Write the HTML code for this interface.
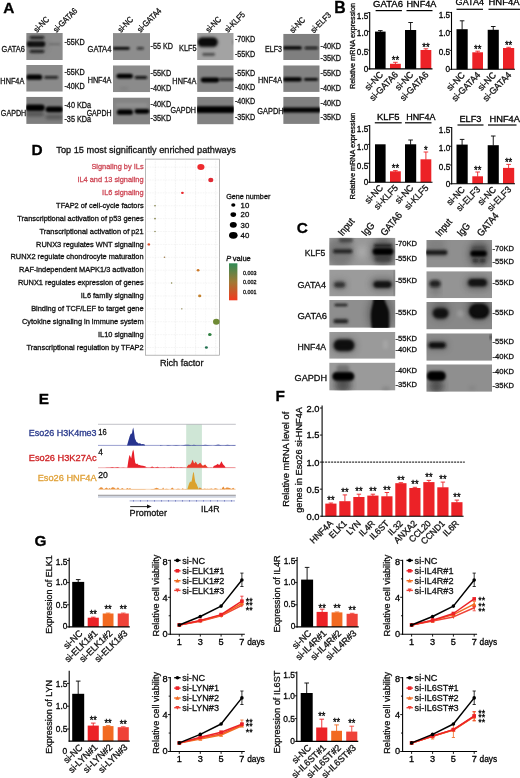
<!DOCTYPE html>
<html><head><meta charset="utf-8"><title>Figure</title>
<style>
html,body{margin:0;padding:0;background:#fff;}
svg{display:block;font-family:"Liberation Sans",sans-serif;}
text{fill:#111;stroke:#111;stroke-width:.3px;}
</style></head><body>
<svg width="520" height="778" viewBox="0 0 520 778">
<defs>
<filter id="b1" x="-30%" y="-100%" width="160%" height="300%"><feGaussianBlur stdDeviation="0.85"/></filter>
<filter id="b2" x="-30%" y="-100%" width="160%" height="300%"><feGaussianBlur stdDeviation="1.6"/></filter>
<filter id="b3" x="-30%" y="-100%" width="160%" height="300%"><feGaussianBlur stdDeviation="3"/></filter>
<filter id="b0" x="-10%" y="-10%" width="120%" height="120%"><feGaussianBlur stdDeviation="0.35"/></filter>
<linearGradient id="pg" x1="0" y1="0" x2="0" y2="1"><stop offset="0" stop-color="#2f8a55"/><stop offset="0.5" stop-color="#a07a35"/><stop offset="1" stop-color="#f23a1e"/></linearGradient>
</defs>
<rect width="520" height="778" fill="#fff"/>
<text transform="translate(3.30,13.10)" font-size="15.4" font-weight="bold" style="fill:#000;stroke:#000">A</text>
<clipPath id="c1"><rect x="26.20" y="32.90" width="36.60" height="27.20"/></clipPath>
<g clip-path="url(#c1)">
<rect x="26.20" y="32.90" width="36.60" height="27.20" fill="#8b8b8b" />
<rect x="29.75" y="36.30" width="14.50" height="2.60" rx="1.30" fill="#0a0a0a" opacity="0.95" filter="url(#b1)"/>
<rect x="26.75" y="41.30" width="18.50" height="5.60" rx="2.80" fill="#000" opacity="1" filter="url(#b1)"/>
<rect x="29.75" y="50.00" width="14.50" height="2.80" rx="1.40" fill="#0a0a0a" opacity="0.95" filter="url(#b1)"/>
<rect x="26.00" y="36.00" width="21.00" height="17.00" rx="8.50" fill="#444" opacity="0.25" filter="url(#b3)"/>
<rect x="48.50" y="43.40" width="12.00" height="1.60" rx="0.80" fill="#333" opacity="0.4" filter="url(#b1)"/>
</g>
<clipPath id="c2"><rect x="26.20" y="65.00" width="36.60" height="26.70"/></clipPath>
<g clip-path="url(#c2)">
<rect x="26.20" y="65.00" width="36.60" height="26.70" fill="#8a8a8a" />
<rect x="26.20" y="74.60" width="16.00" height="5.20" rx="2.60" fill="#000" opacity="1" filter="url(#b1)"/>
<rect x="44.20" y="76.00" width="14.00" height="2.80" rx="1.40" fill="#111" opacity="0.85" filter="url(#b1)"/>
</g>
<clipPath id="c3"><rect x="26.20" y="96.80" width="36.60" height="27.10"/></clipPath>
<g clip-path="url(#c3)">
<rect x="26.20" y="96.80" width="36.60" height="27.10" fill="#7e7e7e" />
<rect x="26.00" y="111.50" width="18.00" height="5.00" rx="2.50" fill="#333" opacity="0.5" filter="url(#b2)"/>
<rect x="45.50" y="114.50" width="17.00" height="5.00" rx="2.50" fill="#333" opacity="0.45" filter="url(#b2)"/>
<rect x="25.25" y="104.40" width="19.50" height="6.60" rx="3.30" fill="#000" opacity="1" filter="url(#b1)"/>
<rect x="45.55" y="106.40" width="17.50" height="5.80" rx="2.90" fill="#000" opacity="1" filter="url(#b1)"/>
</g>
<text transform="translate(25.00,52.00) scale(0.869,1)" font-size="8.6" text-anchor="end">GATA6</text>
<text transform="translate(24.30,84.00) scale(0.851,1)" font-size="8.6" text-anchor="end">HNF4A</text>
<text transform="translate(26.30,116.00) scale(0.834,1)" font-size="8.6" text-anchor="end">GAPDH</text>
<text transform="translate(64.40,45.20) scale(0.837,1)" font-size="8.6">-55KD</text>
<text transform="translate(64.40,75.40) scale(0.837,1)" font-size="8.6">-55KD</text>
<text transform="translate(64.40,89.30) scale(0.837,1)" font-size="8.6">-40KD</text>
<text transform="translate(64.40,107.90) scale(0.849,1)" font-size="8.6">-40 KDa</text>
<text transform="translate(64.40,121.70) scale(0.849,1)" font-size="8.6">-35 KDa</text>
<text transform="translate(36.90,32.90) rotate(-45) scale(0.860,1)" font-size="8.5">si-NC</text>
<text transform="translate(56.40,32.90) rotate(-45) scale(0.860,1)" font-size="8.5">si-GATA6</text>
<clipPath id="c4"><rect x="113.00" y="33.10" width="37.00" height="27.00"/></clipPath>
<g clip-path="url(#c4)">
<rect x="113.00" y="33.10" width="37.00" height="27.00" fill="#8d8d8d" />
<rect x="112.70" y="46.90" width="17.00" height="2.80" rx="1.40" fill="#050505" opacity="0.97" filter="url(#b1)"/>
<rect x="136.80" y="47.30" width="7.00" height="2.20" rx="1.10" fill="#111" opacity="0.8" filter="url(#b1)"/>
</g>
<clipPath id="c5"><rect x="113.00" y="65.30" width="37.00" height="26.90"/></clipPath>
<g clip-path="url(#c5)">
<rect x="113.00" y="65.30" width="37.00" height="26.90" fill="#8b8b8b" />
<rect x="116.45" y="73.80" width="16.50" height="4.80" rx="2.40" fill="#000" opacity="1" filter="url(#b1)"/>
<rect x="134.75" y="76.10" width="12.50" height="3.00" rx="1.50" fill="#0a0a0a" opacity="0.95" filter="url(#b1)"/>
<rect x="120.00" y="87.50" width="8.00" height="2.00" rx="1.00" fill="#555" opacity="0.25" filter="url(#b2)"/>
</g>
<clipPath id="c6"><rect x="113.00" y="97.40" width="37.00" height="27.20"/></clipPath>
<g clip-path="url(#c6)">
<rect x="113.00" y="97.40" width="37.00" height="27.20" fill="#848484" />
<rect x="115.50" y="103.70" width="32.00" height="2.60" rx="1.30" fill="#bbb" opacity="0.35" filter="url(#b2)"/>
<rect x="116.90" y="109.60" width="16.00" height="5.20" rx="2.60" fill="#000" opacity="1" filter="url(#b1)"/>
<rect x="134.50" y="108.90" width="15.00" height="4.80" rx="2.40" fill="#000" opacity="1" filter="url(#b1)"/>
</g>
<text transform="translate(111.40,52.30) scale(0.884,1)" font-size="8.6" text-anchor="end">GATA4</text>
<text transform="translate(111.40,82.90) scale(0.844,1)" font-size="8.6" text-anchor="end">HNF4A</text>
<text transform="translate(111.60,115.90) scale(0.817,1)" font-size="8.6" text-anchor="end">GAPDH</text>
<text transform="translate(150.60,49.20) scale(0.837,1)" font-size="8.6">-55 KD</text>
<text transform="translate(150.60,76.00) scale(0.845,1)" font-size="8.6">-55KD</text>
<text transform="translate(150.60,91.00) scale(0.845,1)" font-size="8.6">-40KD</text>
<text transform="translate(150.60,106.50) scale(0.845,1)" font-size="8.6">-40KD</text>
<text transform="translate(150.60,121.20) scale(0.845,1)" font-size="8.6">-35KD</text>
<text transform="translate(120.90,32.90) rotate(-45) scale(0.860,1)" font-size="8.5">si-NC</text>
<text transform="translate(140.40,32.90) rotate(-45) scale(0.860,1)" font-size="8.5">si-GATA4</text>
<clipPath id="c7"><rect x="197.10" y="32.90" width="36.60" height="27.20"/></clipPath>
<g clip-path="url(#c7)">
<rect x="197.10" y="32.90" width="36.60" height="27.20" fill="#a3a3a3" />
<rect x="197.95" y="37.70" width="19.50" height="8.80" rx="4.40" fill="#000" opacity="1" filter="url(#b1)"/>
<rect x="196.70" y="36.30" width="22.00" height="12.00" rx="6.00" fill="#222" opacity="0.35" filter="url(#b2)"/>
<rect x="202.10" y="52.70" width="13.00" height="3.20" rx="1.60" fill="#222" opacity="0.6" filter="url(#b1)"/>
<rect x="232.20" y="39.50" width="1.60" height="5.00" rx="0.80" fill="#555" opacity="0.4" filter="url(#b1)"/>
</g>
<clipPath id="c8"><rect x="197.10" y="65.30" width="36.60" height="26.60"/></clipPath>
<g clip-path="url(#c8)">
<rect x="197.10" y="65.30" width="36.60" height="26.60" fill="#858585" />
<rect x="200.75" y="77.60" width="18.50" height="4.80" rx="2.40" fill="#000" opacity="1" filter="url(#b1)"/>
<rect x="219.00" y="78.35" width="15.00" height="2.30" rx="1.15" fill="#0a0a0a" opacity="0.9" filter="url(#b1)"/>
</g>
<clipPath id="c9"><rect x="197.10" y="96.80" width="36.60" height="27.60"/></clipPath>
<g clip-path="url(#c9)">
<rect x="197.10" y="96.80" width="36.60" height="27.60" fill="#828282" />
<rect x="194.50" y="106.30" width="42.00" height="6.60" rx="3.30" fill="#000" opacity="1" filter="url(#b1)"/>
</g>
<text transform="translate(196.50,50.50) scale(0.851,1)" font-size="8.6" text-anchor="end">KLF5</text>
<text transform="translate(196.30,83.50) scale(0.851,1)" font-size="8.6" text-anchor="end">HNF4A</text>
<text transform="translate(196.00,113.30) scale(0.834,1)" font-size="8.6" text-anchor="end">GAPDH</text>
<text transform="translate(234.90,41.70) scale(0.829,1)" font-size="8.6">-70KD</text>
<text transform="translate(234.90,56.80) scale(0.829,1)" font-size="8.6">-55KD</text>
<text transform="translate(234.90,76.30) scale(0.829,1)" font-size="8.6">-55KD</text>
<text transform="translate(234.90,90.00) scale(0.829,1)" font-size="8.6">-40KD</text>
<text transform="translate(234.90,103.80) scale(0.829,1)" font-size="8.6">-40KD</text>
<text transform="translate(234.90,120.30) scale(0.829,1)" font-size="8.6">-35KD</text>
<text transform="translate(208.90,32.90) rotate(-45) scale(0.860,1)" font-size="8.5">si-NC</text>
<text transform="translate(227.90,32.90) rotate(-45) scale(0.860,1)" font-size="8.5">si-KLF5</text>
<clipPath id="c10"><rect x="283.20" y="33.80" width="36.50" height="26.30"/></clipPath>
<g clip-path="url(#c10)">
<rect x="283.20" y="33.80" width="36.50" height="26.30" fill="#7f7f7f" />
<rect x="282.80" y="46.30" width="19.00" height="3.20" rx="1.60" fill="#000" opacity="1" filter="url(#b1)"/>
<rect x="304.55" y="46.70" width="13.50" height="2.60" rx="1.30" fill="#0a0a0a" opacity="0.95" filter="url(#b1)"/>
</g>
<clipPath id="c11"><rect x="283.20" y="65.30" width="36.50" height="26.60"/></clipPath>
<g clip-path="url(#c11)">
<rect x="283.20" y="65.30" width="36.50" height="26.60" fill="#828282" />
<rect x="282.80" y="77.25" width="19.00" height="4.30" rx="2.15" fill="#000" opacity="1" filter="url(#b1)"/>
<rect x="304.00" y="77.95" width="14.00" height="2.90" rx="1.45" fill="#050505" opacity="0.97" filter="url(#b1)"/>
</g>
<clipPath id="c12"><rect x="283.20" y="96.80" width="36.50" height="27.10"/></clipPath>
<g clip-path="url(#c12)">
<rect x="283.20" y="96.80" width="36.50" height="27.10" fill="#808080" />
<rect x="280.50" y="107.60" width="42.00" height="4.80" rx="2.40" fill="#000" opacity="1" filter="url(#b1)"/>
</g>
<text transform="translate(282.00,52.00) scale(0.827,1)" font-size="8.6" text-anchor="end">ELF3</text>
<text transform="translate(282.00,83.10) scale(0.851,1)" font-size="8.6" text-anchor="end">HNF4A</text>
<text transform="translate(283.60,113.80) scale(0.863,1)" font-size="8.6" text-anchor="end">GAPDH</text>
<text transform="translate(320.50,49.00) scale(0.845,1)" font-size="8.6">-40KD</text>
<text transform="translate(320.50,61.00) scale(0.845,1)" font-size="8.6">-35KD</text>
<text transform="translate(320.50,76.00) scale(0.845,1)" font-size="8.6">-55KD</text>
<text transform="translate(320.50,90.50) scale(0.845,1)" font-size="8.6">-40KD</text>
<text transform="translate(320.50,106.00) scale(0.845,1)" font-size="8.6">-40KD</text>
<text transform="translate(320.50,120.00) scale(0.845,1)" font-size="8.6">-35KD</text>
<text transform="translate(292.90,33.40) rotate(-45) scale(0.860,1)" font-size="8.5">si-NC</text>
<text transform="translate(313.90,33.40) rotate(-45) scale(0.860,1)" font-size="8.5">si-ELF3</text>
<text transform="translate(334.30,13.30)" font-size="15.8" font-weight="bold" style="fill:#000;stroke:#000">B</text>
<line x1="380.30" y1="30.60" x2="380.30" y2="32.10" stroke="#000" stroke-width="0.9" />
<line x1="378.00" y1="30.60" x2="382.60" y2="30.60" stroke="#000" stroke-width="0.9" />
<rect x="375.00" y="31.60" width="10.60" height="37.30" fill="#000" />
<text transform="translate(383.60,75.20) rotate(-46) scale(0.950,1)" font-size="9.2" text-anchor="end">si-NC</text>
<line x1="395.40" y1="62.30" x2="395.40" y2="64.30" stroke="#ec2227" stroke-width="0.9" />
<line x1="393.10" y1="62.30" x2="397.70" y2="62.30" stroke="#ec2227" stroke-width="0.9" />
<rect x="390.00" y="63.80" width="10.80" height="5.10" fill="#ec2227" />
<text transform="translate(395.40,64.00) scale(0.920,1)" font-size="10.2" text-anchor="middle" style="fill:#000;stroke:#000">**</text>
<text transform="translate(398.70,75.20) rotate(-46) scale(0.950,1)" font-size="9.2" text-anchor="end">si-GATA6</text>
<line x1="410.60" y1="22.50" x2="410.60" y2="30.50" stroke="#000" stroke-width="0.9" />
<line x1="408.30" y1="22.50" x2="412.90" y2="22.50" stroke="#000" stroke-width="0.9" />
<rect x="405.00" y="30.00" width="11.20" height="38.90" fill="#000" />
<text transform="translate(413.90,75.20) rotate(-46) scale(0.950,1)" font-size="9.2" text-anchor="end">si-NC</text>
<line x1="425.90" y1="48.80" x2="425.90" y2="50.50" stroke="#ec2227" stroke-width="0.9" />
<line x1="423.60" y1="48.80" x2="428.20" y2="48.80" stroke="#ec2227" stroke-width="0.9" />
<rect x="420.50" y="50.00" width="10.80" height="18.90" fill="#ec2227" />
<text transform="translate(425.90,50.50) scale(0.920,1)" font-size="10.2" text-anchor="middle" style="fill:#000;stroke:#000">**</text>
<text transform="translate(429.20,75.20) rotate(-46) scale(0.950,1)" font-size="9.2" text-anchor="end">si-GATA6</text>
<line x1="369.70" y1="11.90" x2="369.70" y2="69.45" stroke="#000" stroke-width="1.1" />
<line x1="369.15" y1="68.90" x2="432.50" y2="68.90" stroke="#000" stroke-width="1.1" />
<line x1="367.70" y1="12.60" x2="369.70" y2="12.60" stroke="#000" stroke-width="0.9" />
<text transform="translate(368.20,18.61) scale(0.890,1)" font-size="9.2" text-anchor="end" style="fill:#000;stroke:#000">1.5</text>
<line x1="367.70" y1="31.40" x2="369.70" y2="31.40" stroke="#000" stroke-width="0.9" />
<text transform="translate(368.20,35.61) scale(0.890,1)" font-size="9.2" text-anchor="end" style="fill:#000;stroke:#000">1.0</text>
<line x1="367.70" y1="50.20" x2="369.70" y2="50.20" stroke="#000" stroke-width="0.9" />
<text transform="translate(368.20,54.91) scale(0.890,1)" font-size="9.2" text-anchor="end" style="fill:#000;stroke:#000">0.5</text>
<line x1="367.70" y1="68.90" x2="369.70" y2="68.90" stroke="#000" stroke-width="0.9" />
<text transform="translate(368.20,71.51) scale(0.890,1)" font-size="9.2" text-anchor="end" style="fill:#000;stroke:#000">0</text>
<text transform="translate(373.10,7.30) scale(1.114,1)" font-size="8.6" style="fill:#000;stroke:#000">GATA6</text>
<line x1="375.60" y1="10.60" x2="401.90" y2="10.60" stroke="#000" stroke-width="1.2" />
<text transform="translate(406.50,7.30) scale(1.064,1)" font-size="8.6" style="fill:#000;stroke:#000">HNF4A</text>
<line x1="406.50" y1="10.60" x2="432.50" y2="10.60" stroke="#000" stroke-width="1.2" />
<text transform="translate(355.40,46.00) rotate(-90) scale(1.033,1)" font-size="7.0" text-anchor="middle">Relative mRNA expression</text>
<line x1="462.10" y1="20.80" x2="462.10" y2="29.70" stroke="#000" stroke-width="0.9" />
<line x1="459.80" y1="20.80" x2="464.40" y2="20.80" stroke="#000" stroke-width="0.9" />
<rect x="456.50" y="29.20" width="11.20" height="40.10" fill="#000" />
<text transform="translate(465.40,75.60) rotate(-46) scale(0.950,1)" font-size="9.2" text-anchor="end">si-NC</text>
<line x1="477.65" y1="51.20" x2="477.65" y2="52.80" stroke="#ec2227" stroke-width="0.9" />
<line x1="475.35" y1="51.20" x2="479.95" y2="51.20" stroke="#ec2227" stroke-width="0.9" />
<rect x="472.30" y="52.30" width="10.70" height="17.00" fill="#ec2227" />
<text transform="translate(477.65,52.90) scale(0.920,1)" font-size="10.2" text-anchor="middle" style="fill:#000;stroke:#000">**</text>
<text transform="translate(480.95,75.60) rotate(-46) scale(0.950,1)" font-size="9.2" text-anchor="end">si-GATA4</text>
<line x1="493.25" y1="26.50" x2="493.25" y2="30.30" stroke="#000" stroke-width="0.9" />
<line x1="490.95" y1="26.50" x2="495.55" y2="26.50" stroke="#000" stroke-width="0.9" />
<rect x="487.70" y="29.80" width="11.10" height="39.50" fill="#000" />
<text transform="translate(496.55,75.60) rotate(-46) scale(0.950,1)" font-size="9.2" text-anchor="end">si-NC</text>
<line x1="508.60" y1="47.30" x2="508.60" y2="48.50" stroke="#ec2227" stroke-width="0.9" />
<line x1="506.30" y1="47.30" x2="510.90" y2="47.30" stroke="#ec2227" stroke-width="0.9" />
<rect x="503.00" y="48.00" width="11.20" height="21.30" fill="#ec2227" />
<text transform="translate(508.60,49.00) scale(0.920,1)" font-size="10.2" text-anchor="middle" style="fill:#000;stroke:#000">**</text>
<text transform="translate(511.90,75.60) rotate(-46) scale(0.950,1)" font-size="9.2" text-anchor="end">si-GATA4</text>
<line x1="451.50" y1="11.90" x2="451.50" y2="69.85" stroke="#000" stroke-width="1.1" />
<line x1="450.95" y1="69.30" x2="515.00" y2="69.30" stroke="#000" stroke-width="1.1" />
<line x1="449.50" y1="12.60" x2="451.50" y2="12.60" stroke="#000" stroke-width="0.9" />
<text transform="translate(450.00,17.91) scale(0.890,1)" font-size="9.2" text-anchor="end" style="fill:#000;stroke:#000">1.5</text>
<line x1="449.50" y1="31.50" x2="451.50" y2="31.50" stroke="#000" stroke-width="0.9" />
<text transform="translate(450.00,36.01) scale(0.890,1)" font-size="9.2" text-anchor="end" style="fill:#000;stroke:#000">1.0</text>
<line x1="449.50" y1="50.40" x2="451.50" y2="50.40" stroke="#000" stroke-width="0.9" />
<text transform="translate(450.00,55.31) scale(0.890,1)" font-size="9.2" text-anchor="end" style="fill:#000;stroke:#000">0.5</text>
<line x1="449.50" y1="69.30" x2="451.50" y2="69.30" stroke="#000" stroke-width="0.9" />
<text transform="translate(450.00,72.11) scale(0.890,1)" font-size="9.2" text-anchor="end" style="fill:#000;stroke:#000">0</text>
<text transform="translate(455.60,5.40) scale(1.055,1)" font-size="8.6" style="fill:#000;stroke:#000">GATA4</text>
<line x1="456.50" y1="9.30" x2="483.00" y2="9.30" stroke="#000" stroke-width="1.2" />
<text transform="translate(488.50,5.40) scale(1.100,1)" font-size="8.6" style="fill:#000;stroke:#000">HNF4A</text>
<line x1="488.50" y1="9.30" x2="520.00" y2="9.30" stroke="#000" stroke-width="1.2" />
<rect x="375.00" y="144.30" width="10.60" height="37.90" fill="#000" />
<text transform="translate(383.60,188.50) rotate(-46) scale(0.950,1)" font-size="9.2" text-anchor="end">si-NC</text>
<line x1="395.40" y1="170.60" x2="395.40" y2="171.80" stroke="#ec2227" stroke-width="0.9" />
<line x1="393.10" y1="170.60" x2="397.70" y2="170.60" stroke="#ec2227" stroke-width="0.9" />
<rect x="390.00" y="171.30" width="10.80" height="10.90" fill="#ec2227" />
<text transform="translate(395.40,172.30) scale(0.920,1)" font-size="10.2" text-anchor="middle" style="fill:#000;stroke:#000">**</text>
<text transform="translate(398.70,188.50) rotate(-46) scale(0.950,1)" font-size="9.2" text-anchor="end">si-KLF5</text>
<line x1="410.60" y1="140.00" x2="410.60" y2="144.80" stroke="#000" stroke-width="0.9" />
<line x1="408.30" y1="140.00" x2="412.90" y2="140.00" stroke="#000" stroke-width="0.9" />
<rect x="405.00" y="144.30" width="11.20" height="37.90" fill="#000" />
<text transform="translate(413.90,188.50) rotate(-46) scale(0.950,1)" font-size="9.2" text-anchor="end">si-NC</text>
<line x1="425.90" y1="152.00" x2="425.90" y2="159.80" stroke="#ec2227" stroke-width="0.9" />
<line x1="423.60" y1="152.00" x2="428.20" y2="152.00" stroke="#ec2227" stroke-width="0.9" />
<rect x="420.50" y="159.30" width="10.80" height="22.90" fill="#ec2227" />
<text transform="translate(425.90,153.70) scale(0.920,1)" font-size="10.2" text-anchor="middle" style="fill:#000;stroke:#000">*</text>
<text transform="translate(429.20,188.50) rotate(-46) scale(0.950,1)" font-size="9.2" text-anchor="end">si-KLF5</text>
<line x1="369.70" y1="125.00" x2="369.70" y2="182.75" stroke="#000" stroke-width="1.1" />
<line x1="369.15" y1="182.20" x2="432.50" y2="182.20" stroke="#000" stroke-width="1.1" />
<line x1="367.70" y1="125.60" x2="369.70" y2="125.60" stroke="#000" stroke-width="0.9" />
<text transform="translate(368.20,131.91) scale(0.890,1)" font-size="9.2" text-anchor="end" style="fill:#000;stroke:#000">1.5</text>
<line x1="367.70" y1="144.40" x2="369.70" y2="144.40" stroke="#000" stroke-width="0.9" />
<text transform="translate(368.20,149.51) scale(0.890,1)" font-size="9.2" text-anchor="end" style="fill:#000;stroke:#000">1.0</text>
<line x1="367.70" y1="163.30" x2="369.70" y2="163.30" stroke="#000" stroke-width="0.9" />
<text transform="translate(368.20,168.71) scale(0.890,1)" font-size="9.2" text-anchor="end" style="fill:#000;stroke:#000">0.5</text>
<line x1="367.70" y1="182.20" x2="369.70" y2="182.20" stroke="#000" stroke-width="0.9" />
<text transform="translate(368.20,184.61) scale(0.890,1)" font-size="9.2" text-anchor="end" style="fill:#000;stroke:#000">0</text>
<text transform="translate(376.90,119.60) scale(1.095,1)" font-size="8.6" style="fill:#000;stroke:#000">KLF5</text>
<line x1="374.80" y1="122.80" x2="401.70" y2="122.80" stroke="#000" stroke-width="1.2" />
<text transform="translate(406.20,119.60) scale(1.043,1)" font-size="8.6" style="fill:#000;stroke:#000">HNF4A</text>
<line x1="405.00" y1="122.80" x2="431.50" y2="122.80" stroke="#000" stroke-width="1.2" />
<text transform="translate(354.90,156.00) rotate(-90) scale(1.045,1)" font-size="7.0" text-anchor="middle">Relative mRNA expression</text>
<line x1="462.10" y1="139.40" x2="462.10" y2="145.10" stroke="#000" stroke-width="0.9" />
<line x1="459.80" y1="139.40" x2="464.40" y2="139.40" stroke="#000" stroke-width="0.9" />
<rect x="456.50" y="144.60" width="11.20" height="39.20" fill="#000" />
<text transform="translate(465.40,190.10) rotate(-46) scale(0.950,1)" font-size="9.2" text-anchor="end">si-NC</text>
<line x1="477.65" y1="172.00" x2="477.65" y2="176.80" stroke="#ec2227" stroke-width="0.9" />
<line x1="475.35" y1="172.00" x2="479.95" y2="172.00" stroke="#ec2227" stroke-width="0.9" />
<rect x="472.30" y="176.30" width="10.70" height="7.50" fill="#ec2227" />
<text transform="translate(477.65,173.70) scale(0.920,1)" font-size="10.2" text-anchor="middle" style="fill:#000;stroke:#000">**</text>
<text transform="translate(480.95,190.10) rotate(-46) scale(0.950,1)" font-size="9.2" text-anchor="end">si-ELF3</text>
<line x1="493.25" y1="136.00" x2="493.25" y2="145.70" stroke="#000" stroke-width="0.9" />
<line x1="490.95" y1="136.00" x2="495.55" y2="136.00" stroke="#000" stroke-width="0.9" />
<rect x="487.70" y="145.20" width="11.10" height="38.60" fill="#000" />
<text transform="translate(496.55,190.10) rotate(-46) scale(0.950,1)" font-size="9.2" text-anchor="end">si-NC</text>
<line x1="508.60" y1="164.40" x2="508.60" y2="168.40" stroke="#ec2227" stroke-width="0.9" />
<line x1="506.30" y1="164.40" x2="510.90" y2="164.40" stroke="#ec2227" stroke-width="0.9" />
<rect x="503.00" y="167.90" width="11.20" height="15.90" fill="#ec2227" />
<text transform="translate(508.60,166.10) scale(0.920,1)" font-size="10.2" text-anchor="middle" style="fill:#000;stroke:#000">**</text>
<text transform="translate(511.90,190.10) rotate(-46) scale(0.950,1)" font-size="9.2" text-anchor="end">si-ELF3</text>
<line x1="451.70" y1="127.00" x2="451.70" y2="184.35" stroke="#000" stroke-width="1.1" />
<line x1="451.15" y1="183.80" x2="515.00" y2="183.80" stroke="#000" stroke-width="1.1" />
<line x1="449.70" y1="127.50" x2="451.70" y2="127.50" stroke="#000" stroke-width="0.9" />
<text transform="translate(450.20,133.11) scale(0.890,1)" font-size="9.2" text-anchor="end" style="fill:#000;stroke:#000">1.5</text>
<line x1="449.70" y1="146.30" x2="451.70" y2="146.30" stroke="#000" stroke-width="0.9" />
<text transform="translate(450.20,150.81) scale(0.890,1)" font-size="9.2" text-anchor="end" style="fill:#000;stroke:#000">1.0</text>
<line x1="449.70" y1="165.00" x2="451.70" y2="165.00" stroke="#000" stroke-width="0.9" />
<text transform="translate(450.20,169.61) scale(0.890,1)" font-size="9.2" text-anchor="end" style="fill:#000;stroke:#000">0.5</text>
<line x1="449.70" y1="183.80" x2="451.70" y2="183.80" stroke="#000" stroke-width="0.9" />
<text transform="translate(450.20,186.51) scale(0.890,1)" font-size="9.2" text-anchor="end" style="fill:#000;stroke:#000">0</text>
<text transform="translate(459.40,122.30) scale(1.075,1)" font-size="8.6" style="fill:#000;stroke:#000">ELF3</text>
<line x1="457.50" y1="125.00" x2="483.50" y2="125.00" stroke="#000" stroke-width="1.2" />
<text transform="translate(489.50,122.30) scale(1.082,1)" font-size="8.6" style="fill:#000;stroke:#000">HNF4A</text>
<line x1="488.00" y1="125.00" x2="516.50" y2="125.00" stroke="#000" stroke-width="1.2" />
<text transform="translate(296.70,233.20)" font-size="15.4" font-weight="bold" style="fill:#000;stroke:#000">C</text>
<clipPath id="c13"><rect x="329.20" y="237.80" width="66.20" height="27.80"/></clipPath>
<g clip-path="url(#c13)">
<rect x="329.20" y="237.80" width="66.20" height="27.80" fill="#999999" />
<rect x="327.00" y="237.00" width="26.00" height="30.00" rx="13.00" fill="#555" opacity="0.45" filter="url(#b3)"/>
<rect x="339.00" y="237.50" width="14.00" height="5.00" rx="2.50" fill="#222" opacity="0.65" filter="url(#b2)"/>
<rect x="333.45" y="249.70" width="18.50" height="3.00" rx="1.50" fill="#161616" opacity="0.95" filter="url(#b1)"/>
<rect x="332.70" y="248.20" width="20.00" height="6.00" rx="3.00" fill="#333" opacity="0.4" filter="url(#b2)"/>
<rect x="357.00" y="246.00" width="10.00" height="12.00" rx="5.00" fill="#c8c8c8" opacity="0.4" filter="url(#b3)"/>
<rect x="371.50" y="238.00" width="23.00" height="28.00" rx="11.50" fill="#3a3a3a" opacity="0.6" filter="url(#b3)"/>
<rect x="374.00" y="244.10" width="18.00" height="3.00" rx="1.50" fill="#1a1a1a" opacity="0.8" filter="url(#b1)"/>
<rect x="373.25" y="248.80" width="19.50" height="5.60" rx="2.80" fill="#000" opacity="1" filter="url(#b1)"/>
<rect x="372.50" y="247.60" width="21.00" height="8.00" rx="4.00" fill="#000" opacity="0.6" filter="url(#b2)"/>
<rect x="374.50" y="255.80" width="17.00" height="6.00" rx="3.00" fill="#2a2a2a" opacity="0.6" filter="url(#b2)"/>
</g>
<clipPath id="c14"><rect x="329.20" y="269.60" width="66.20" height="26.80"/></clipPath>
<g clip-path="url(#c14)">
<rect x="329.20" y="269.60" width="66.20" height="26.80" fill="#9b9b9b" />
<rect x="334.10" y="282.05" width="11.00" height="5.50" rx="2.75" fill="#1a1a1a" opacity="0.9" filter="url(#b2)"/>
<rect x="332.10" y="280.00" width="15.00" height="10.00" rx="5.00" fill="#444" opacity="0.35" filter="url(#b3)"/>
<rect x="373.50" y="281.15" width="18.00" height="6.50" rx="3.25" fill="#000" opacity="0.95" filter="url(#b2)"/>
<rect x="375.00" y="282.40" width="15.00" height="4.00" rx="2.00" fill="#000" opacity="0.9" filter="url(#b1)"/>
<rect x="370.00" y="277.50" width="25.00" height="13.00" rx="6.50" fill="#333" opacity="0.4" filter="url(#b3)"/>
<rect x="394.00" y="270.00" width="1.20" height="26.00" rx="0.60" fill="#444" opacity="0.5" filter="url(#b1)"/>
</g>
<clipPath id="c15"><rect x="329.20" y="300.00" width="66.20" height="27.80"/></clipPath>
<g clip-path="url(#c15)">
<rect x="329.20" y="300.00" width="66.20" height="27.80" fill="#8e8e8e" />
<rect x="334.50" y="303.80" width="13.00" height="2.40" rx="1.20" fill="#1c1c1c" opacity="0.95" filter="url(#b1)"/>
<rect x="333.80" y="319.50" width="14.00" height="3.40" rx="1.70" fill="#161616" opacity="0.95" filter="url(#b1)"/>
<rect x="333.00" y="318.20" width="16.00" height="6.00" rx="3.00" fill="#333" opacity="0.3" filter="url(#b2)"/>
</g>
<clipPath id="cg6"><rect x="329.2" y="300" width="66.19999999999999" height="27.8"/></clipPath>
<g clip-path="url(#cg6)"><path d="M373.5 298 C373.5 303 371 308 370.8 314 C370.6 320 371.5 325 372 330 L389 330 C389.4 324 389.4 316 389 312 C388.4 307 385.5 304 384 298 Z" fill="#000" filter="url(#b1)"/><ellipse cx="380" cy="314" rx="13" ry="20" fill="#222" opacity="0.35" filter="url(#b3)"/></g>
<clipPath id="c16"><rect x="329.20" y="332.00" width="66.20" height="26.80"/></clipPath>
<g clip-path="url(#c16)">
<rect x="329.20" y="332.00" width="66.20" height="26.80" fill="#9a9a9a" />
<rect x="333.50" y="339.20" width="21.00" height="12.00" rx="6.00" fill="#000" opacity="0.9" filter="url(#b2)"/>
<rect x="335.50" y="341.20" width="17.00" height="8.00" rx="4.00" fill="#000" opacity="1" filter="url(#b1)"/>
<rect x="331.00" y="336.90" width="26.00" height="17.00" rx="8.50" fill="#333" opacity="0.3" filter="url(#b3)"/>
<rect x="383.00" y="340.00" width="5.00" height="9.00" rx="2.50" fill="#c0c0c0" opacity="0.3" filter="url(#b2)"/>
</g>
<clipPath id="c17"><rect x="329.20" y="362.60" width="66.20" height="28.00"/></clipPath>
<g clip-path="url(#c17)">
<rect x="329.20" y="362.60" width="66.20" height="28.00" fill="#9a9a9a" />
<rect x="334.50" y="377.00" width="17.00" height="16.00" rx="8.00" fill="#222" opacity="0.6" filter="url(#b3)"/>
<rect x="336.50" y="365.00" width="13.00" height="7.00" rx="3.50" fill="#444" opacity="0.45" filter="url(#b2)"/>
<rect x="333.05" y="372.70" width="20.50" height="7.00" rx="3.50" fill="#000" opacity="1" filter="url(#b1)"/>
<rect x="332.30" y="371.65" width="22.00" height="9.50" rx="4.75" fill="#000" opacity="0.7" filter="url(#b2)"/>
<rect x="382.00" y="386.50" width="8.00" height="5.00" rx="2.50" fill="#666" opacity="0.3" filter="url(#b2)"/>
</g>
<text transform="translate(325.30,255.50) scale(0.997,1)" font-size="8.6" text-anchor="end">KLF5</text>
<text transform="translate(326.00,287.50) scale(1.059,1)" font-size="8.6" text-anchor="end">GATA4</text>
<text transform="translate(327.00,319.00) scale(1.096,1)" font-size="8.6" text-anchor="end">GATA6</text>
<text transform="translate(326.00,349.80) scale(1.011,1)" font-size="8.6" text-anchor="end">HNF4A</text>
<text transform="translate(327.00,380.50) scale(1.063,1)" font-size="8.6" text-anchor="end">GAPDH</text>
<text transform="translate(395.60,246.40) scale(0.998,1)" font-size="7.6">-70KD</text>
<text transform="translate(395.60,260.60) scale(0.998,1)" font-size="7.6">-55KD</text>
<text transform="translate(395.60,283.10) scale(0.998,1)" font-size="7.6">-55KD</text>
<text transform="translate(395.60,314.60) scale(0.998,1)" font-size="7.6">-55KD</text>
<text transform="translate(395.60,340.60) scale(0.998,1)" font-size="7.6">-55KD</text>
<text transform="translate(395.60,352.10) scale(0.998,1)" font-size="7.6">-40KD</text>
<text transform="translate(395.60,373.10) scale(0.998,1)" font-size="7.6">-40KD</text>
<text transform="translate(395.60,387.10) scale(0.998,1)" font-size="7.6">-35KD</text>
<text transform="translate(342.50,236.50) rotate(-50) scale(0.880,1)" font-size="10">Input</text>
<text transform="translate(366.00,236.50) rotate(-50) scale(0.880,1)" font-size="10">IgG</text>
<text transform="translate(385.00,236.50) rotate(-50) scale(0.880,1)" font-size="10">GATA6</text>
<clipPath id="c18"><rect x="426.30" y="240.00" width="65.70" height="27.60"/></clipPath>
<g clip-path="url(#c18)">
<rect x="426.30" y="240.00" width="65.70" height="27.60" fill="#8f8f8f" />
<rect x="425.00" y="250.50" width="22.00" height="4.00" rx="2.00" fill="#000" opacity="0.95" filter="url(#b1)"/>
<rect x="424.00" y="248.60" width="24.00" height="8.00" rx="4.00" fill="#333" opacity="0.4" filter="url(#b2)"/>
<rect x="427.00" y="240.00" width="18.00" height="8.00" rx="4.00" fill="#555" opacity="0.3" filter="url(#b3)"/>
<rect x="468.00" y="241.00" width="22.00" height="26.00" rx="11.00" fill="#3a3a3a" opacity="0.5" filter="url(#b3)"/>
<rect x="471.60" y="246.20" width="14.00" height="3.00" rx="1.50" fill="#333" opacity="0.6" filter="url(#b2)"/>
<rect x="470.85" y="251.00" width="15.50" height="5.00" rx="2.50" fill="#000" opacity="1" filter="url(#b1)"/>
<rect x="470.10" y="250.00" width="17.00" height="7.00" rx="3.50" fill="#000" opacity="0.5" filter="url(#b2)"/>
<rect x="472.50" y="258.10" width="6.00" height="5.00" rx="2.50" fill="#1a1a1a" opacity="0.7" filter="url(#b2)"/>
<rect x="479.50" y="258.10" width="6.00" height="5.00" rx="2.50" fill="#1a1a1a" opacity="0.7" filter="url(#b2)"/>
</g>
<clipPath id="c19"><rect x="426.30" y="271.20" width="65.70" height="27.00"/></clipPath>
<g clip-path="url(#c19)">
<rect x="426.30" y="271.20" width="65.70" height="27.00" fill="#949494" />
<rect x="429.50" y="280.30" width="11.00" height="7.00" rx="3.50" fill="#111" opacity="0.9" filter="url(#b2)"/>
<rect x="431.00" y="281.00" width="9.00" height="14.00" rx="4.50" fill="#444" opacity="0.35" filter="url(#b3)"/>
<rect x="468.00" y="279.05" width="19.00" height="7.50" rx="3.75" fill="#000" opacity="0.95" filter="url(#b2)"/>
<rect x="470.00" y="280.35" width="15.00" height="4.50" rx="2.25" fill="#000" opacity="0.95" filter="url(#b1)"/>
<rect x="465.00" y="276.50" width="25.00" height="14.00" rx="7.00" fill="#333" opacity="0.4" filter="url(#b3)"/>
</g>
<clipPath id="c20"><rect x="426.30" y="302.00" width="65.70" height="27.40"/></clipPath>
<g clip-path="url(#c20)">
<rect x="426.30" y="302.00" width="65.70" height="27.40" fill="#888888" />
<rect x="432.60" y="307.70" width="16.00" height="11.00" rx="5.50" fill="#000" opacity="0.9" filter="url(#b2)"/>
<rect x="435.10" y="310.20" width="11.00" height="6.00" rx="3.00" fill="#000" opacity="0.9" filter="url(#b1)"/>
<rect x="431.10" y="301.00" width="19.00" height="20.00" rx="9.50" fill="#333" opacity="0.35" filter="url(#b3)"/>
<rect x="457.00" y="310.00" width="7.00" height="7.00" rx="3.50" fill="#b8b8b8" opacity="0.35" filter="url(#b2)"/>
<rect x="469.00" y="303.70" width="20.00" height="15.00" rx="7.50" fill="#000" opacity="1" filter="url(#b2)"/>
<rect x="470.50" y="305.50" width="17.00" height="11.00" rx="5.50" fill="#000" opacity="1" filter="url(#b1)"/>
<rect x="467.00" y="298.00" width="24.00" height="22.00" rx="11.00" fill="#222" opacity="0.45" filter="url(#b3)"/>
</g>
<clipPath id="c21"><rect x="426.30" y="333.30" width="65.70" height="27.50"/></clipPath>
<g clip-path="url(#c21)">
<rect x="426.30" y="333.30" width="65.70" height="27.50" fill="#8d8d8d" />
<rect x="428.45" y="342.30" width="17.50" height="6.00" rx="3.00" fill="#0a0a0a" opacity="0.95" filter="url(#b2)"/>
<rect x="430.20" y="343.50" width="14.00" height="3.60" rx="1.80" fill="#000" opacity="0.9" filter="url(#b1)"/>
<rect x="426.20" y="340.30" width="22.00" height="10.00" rx="5.00" fill="#333" opacity="0.3" filter="url(#b3)"/>
<rect x="490.25" y="334.70" width="1.50" height="5.00" rx="0.75" fill="#111" opacity="0.9" filter="url(#b1)"/>
</g>
<clipPath id="c22"><rect x="426.30" y="364.30" width="65.70" height="27.50"/></clipPath>
<g clip-path="url(#c22)">
<rect x="426.30" y="364.30" width="65.70" height="27.50" fill="#8f8f8f" />
<rect x="428.90" y="379.00" width="15.00" height="14.00" rx="7.00" fill="#222" opacity="0.6" filter="url(#b3)"/>
<rect x="427.55" y="371.90" width="17.50" height="8.00" rx="4.00" fill="#000" opacity="1" filter="url(#b1)"/>
<rect x="426.80" y="371.00" width="19.00" height="10.00" rx="5.00" fill="#000" opacity="0.7" filter="url(#b2)"/>
<rect x="468.50" y="385.50" width="7.00" height="5.00" rx="2.50" fill="#777" opacity="0.3" filter="url(#b2)"/>
</g>
<text transform="translate(492.60,250.60) scale(0.998,1)" font-size="7.6">-70KD</text>
<text transform="translate(492.60,263.60) scale(0.998,1)" font-size="7.6">-55KD</text>
<text transform="translate(492.60,284.80) scale(0.998,1)" font-size="7.6">-55KD</text>
<text transform="translate(492.60,314.90) scale(0.998,1)" font-size="7.6">-55KD</text>
<text transform="translate(492.60,343.60) scale(0.998,1)" font-size="7.6">-55KD</text>
<text transform="translate(492.60,358.60) scale(0.998,1)" font-size="7.6">-40KD</text>
<text transform="translate(492.60,374.40) scale(0.998,1)" font-size="7.6">-40KD</text>
<text transform="translate(492.60,387.60) scale(0.998,1)" font-size="7.6">-35KD</text>
<text transform="translate(440.00,237.00) rotate(-50) scale(0.880,1)" font-size="10">Input</text>
<text transform="translate(461.50,237.00) rotate(-50) scale(0.880,1)" font-size="10">IgG</text>
<text transform="translate(481.50,237.00) rotate(-50) scale(0.880,1)" font-size="10">GATA4</text>
<text transform="translate(31.50,154.60)" font-size="15.4" font-weight="bold" style="fill:#000;stroke:#000">D</text>
<text transform="translate(56.30,153.10) scale(0.981,1)" font-size="9.4">Top 15 most significantly enriched pathways</text>
<rect x="145.40" y="159.10" width="74.00" height="196.10" fill="#fff" stroke="#9a9a9a" stroke-width="0.7"/>
<line x1="145.40" y1="167.10" x2="219.40" y2="167.10" stroke="#dddddd" stroke-width="0.4" stroke-dasharray="0.8 0.8"/>
<line x1="145.40" y1="179.99" x2="219.40" y2="179.99" stroke="#dddddd" stroke-width="0.4" stroke-dasharray="0.8 0.8"/>
<line x1="145.40" y1="192.87" x2="219.40" y2="192.87" stroke="#dddddd" stroke-width="0.4" stroke-dasharray="0.8 0.8"/>
<line x1="145.40" y1="205.76" x2="219.40" y2="205.76" stroke="#dddddd" stroke-width="0.4" stroke-dasharray="0.8 0.8"/>
<line x1="145.40" y1="218.64" x2="219.40" y2="218.64" stroke="#dddddd" stroke-width="0.4" stroke-dasharray="0.8 0.8"/>
<line x1="145.40" y1="231.53" x2="219.40" y2="231.53" stroke="#dddddd" stroke-width="0.4" stroke-dasharray="0.8 0.8"/>
<line x1="145.40" y1="244.42" x2="219.40" y2="244.42" stroke="#dddddd" stroke-width="0.4" stroke-dasharray="0.8 0.8"/>
<line x1="145.40" y1="257.30" x2="219.40" y2="257.30" stroke="#dddddd" stroke-width="0.4" stroke-dasharray="0.8 0.8"/>
<line x1="145.40" y1="270.19" x2="219.40" y2="270.19" stroke="#dddddd" stroke-width="0.4" stroke-dasharray="0.8 0.8"/>
<line x1="145.40" y1="283.07" x2="219.40" y2="283.07" stroke="#dddddd" stroke-width="0.4" stroke-dasharray="0.8 0.8"/>
<line x1="145.40" y1="295.96" x2="219.40" y2="295.96" stroke="#dddddd" stroke-width="0.4" stroke-dasharray="0.8 0.8"/>
<line x1="145.40" y1="308.85" x2="219.40" y2="308.85" stroke="#dddddd" stroke-width="0.4" stroke-dasharray="0.8 0.8"/>
<line x1="145.40" y1="321.73" x2="219.40" y2="321.73" stroke="#dddddd" stroke-width="0.4" stroke-dasharray="0.8 0.8"/>
<line x1="145.40" y1="334.62" x2="219.40" y2="334.62" stroke="#dddddd" stroke-width="0.4" stroke-dasharray="0.8 0.8"/>
<line x1="145.40" y1="347.50" x2="219.40" y2="347.50" stroke="#dddddd" stroke-width="0.4" stroke-dasharray="0.8 0.8"/>
<line x1="155.30" y1="159.10" x2="155.30" y2="355.20" stroke="#d8d8d8" stroke-width="0.45" stroke-dasharray="0.8 0.8"/>
<line x1="175.40" y1="159.10" x2="175.40" y2="355.20" stroke="#d8d8d8" stroke-width="0.45" stroke-dasharray="0.8 0.8"/>
<line x1="195.60" y1="159.10" x2="195.60" y2="355.20" stroke="#d8d8d8" stroke-width="0.45" stroke-dasharray="0.8 0.8"/>
<line x1="215.70" y1="159.10" x2="215.70" y2="355.20" stroke="#d8d8d8" stroke-width="0.45" stroke-dasharray="0.8 0.8"/>
<line x1="165.30" y1="159.10" x2="165.30" y2="355.20" stroke="#e6e6e6" stroke-width="0.35" stroke-dasharray="0.8 0.8"/>
<line x1="185.50" y1="159.10" x2="185.50" y2="355.20" stroke="#e6e6e6" stroke-width="0.35" stroke-dasharray="0.8 0.8"/>
<line x1="205.60" y1="159.10" x2="205.60" y2="355.20" stroke="#e6e6e6" stroke-width="0.35" stroke-dasharray="0.8 0.8"/>
<text transform="translate(143.60,169.20)" font-size="7.4" text-anchor="end" style="fill:#cf4a58;stroke:#cf4a58">Signaling by ILs</text>
<text transform="translate(143.60,182.09)" font-size="7.4" text-anchor="end" style="fill:#cf4a58;stroke:#cf4a58">IL4 and 13 signaling</text>
<text transform="translate(143.60,194.97)" font-size="7.4" text-anchor="end" style="fill:#cf4a58;stroke:#cf4a58">IL6 signaling</text>
<text transform="translate(143.60,207.86)" font-size="7.4" text-anchor="end">TFAP2 of cell-cycle factors</text>
<text transform="translate(143.60,220.74)" font-size="7.4" text-anchor="end">Transcriptional activation of p53 genes</text>
<text transform="translate(143.60,233.63)" font-size="7.4" text-anchor="end">Transcriptional activation of p21</text>
<text transform="translate(143.60,246.52)" font-size="7.4" text-anchor="end">RUNX3 regulates WNT signaling</text>
<text transform="translate(143.60,259.40)" font-size="7.4" text-anchor="end">RUNX2 regulate chondrocyte maturation</text>
<text transform="translate(143.60,272.29)" font-size="7.4" text-anchor="end">RAF-independent MAPK1/3 activation</text>
<text transform="translate(143.60,285.17)" font-size="7.4" text-anchor="end">RUNX1 regulates expression of genes</text>
<text transform="translate(143.60,298.06)" font-size="7.4" text-anchor="end">IL6 family signaling</text>
<text transform="translate(143.60,310.95)" font-size="7.4" text-anchor="end">Binding of TCF/LEF to target gene</text>
<text transform="translate(143.60,323.83)" font-size="7.4" text-anchor="end">Cytokine signaling in immune system</text>
<text transform="translate(143.60,336.72)" font-size="7.4" text-anchor="end">IL10 signaling</text>
<text transform="translate(143.60,349.60)" font-size="7.4" text-anchor="end">Transcriptional regulation by TFAP2</text>
<ellipse cx="200.90" cy="167.10" rx="3.60" ry="3.00" fill="#ee2a2e" />
<ellipse cx="210.80" cy="179.99" rx="2.60" ry="2.20" fill="#e02a34" />
<ellipse cx="182.40" cy="192.87" rx="1.40" ry="1.20" fill="#e8282c" />
<ellipse cx="155.00" cy="205.76" rx="0.80" ry="0.80" fill="#7a7a40" />
<ellipse cx="155.00" cy="218.64" rx="0.80" ry="0.80" fill="#7a7a40" />
<ellipse cx="155.00" cy="231.53" rx="0.70" ry="0.70" fill="#7a7a40" />
<ellipse cx="148.80" cy="244.42" rx="1.30" ry="1.20" fill="#e0502a" />
<ellipse cx="164.50" cy="257.30" rx="0.80" ry="0.70" fill="#a08050" />
<ellipse cx="198.10" cy="270.19" rx="1.40" ry="1.20" fill="#cc7a2a" />
<ellipse cx="171.60" cy="283.07" rx="0.80" ry="0.70" fill="#8a8a50" />
<ellipse cx="199.70" cy="295.96" rx="1.60" ry="1.40" fill="#c4822e" />
<ellipse cx="181.80" cy="308.85" rx="0.80" ry="0.70" fill="#8a8050" />
<ellipse cx="216.30" cy="321.73" rx="3.30" ry="2.90" fill="#6f8a35" />
<ellipse cx="209.80" cy="334.62" rx="1.80" ry="1.50" fill="#2f8040" />
<ellipse cx="206.40" cy="347.50" rx="1.50" ry="1.30" fill="#207050" />
<text transform="translate(181.70,365.80) scale(0.981,1)" font-size="9.3" text-anchor="middle">Rich factor</text>
<text transform="translate(226.20,198.90) scale(0.977,1)" font-size="7.4">Gene number</text>
<ellipse cx="233.30" cy="205.00" rx="2.10" ry="1.70" fill="#000" />
<text transform="translate(240.60,207.80)" font-size="7.8">10</text>
<ellipse cx="233.30" cy="214.60" rx="2.80" ry="2.30" fill="#000" />
<text transform="translate(240.60,217.40)" font-size="7.8">20</text>
<ellipse cx="233.30" cy="224.80" rx="3.50" ry="2.90" fill="#000" />
<text transform="translate(240.60,227.60)" font-size="7.8">30</text>
<ellipse cx="233.30" cy="235.30" rx="4.30" ry="3.40" fill="#000" />
<text transform="translate(240.60,238.10)" font-size="7.8">40</text>
<text transform="translate(226.20,261.30)" font-size="7.4" font-style="italic">P</text>
<text transform="translate(232.80,261.30) scale(1.017,1)" font-size="7.4">value</text>
<rect x="229.00" y="263.30" width="8.40" height="37.00" fill="url(#pg)" />
<text transform="translate(243.00,274.80) scale(0.992,1)" font-size="5.4">0.003</text>
<text transform="translate(243.00,284.30) scale(0.992,1)" font-size="5.4">0.002</text>
<text transform="translate(243.00,293.90) scale(0.992,1)" font-size="5.4">0.001</text>
<text transform="translate(38.80,403.60)" font-size="15.4" font-weight="bold" style="fill:#000;stroke:#000">E</text>
<rect x="186.20" y="424.30" width="15.70" height="65.30" fill="#cfe6d6" />
<line x1="98.00" y1="424.30" x2="235.80" y2="424.30" stroke="#a8a8b0" stroke-width="0.7" />
<line x1="98.00" y1="445.40" x2="235.80" y2="445.40" stroke="#5560b0" stroke-width="0.6" />
<path d="M127.0 445.4 L127.0 445.4 L128.3 441.0 L129.6 436.5 L130.4 434.5 L131.2 433.2 L131.9 434.0 L132.5 430.0 L133.2 427.4 L133.8 430.5 L134.3 434.0 L134.9 438.5 L135.6 440.0 L136.5 442.0 L137.5 442.6 L138.6 443.5 L140.0 443.2 L141.5 444.2 L143.0 444.0 L145.0 444.8 L145.0 445.4 Z" fill="#27348f" opacity="1"/>
<path d="M160.0 445.4 L160.0 445.1 L163.4 445.4 L166.0 445.4 L167.9 445.0 L169.9 445.3 L172.0 445.4 L176.1 444.9 L180.3 445.4 L182.8 445.3 L185.3 444.7 L188.5 444.8 L191.6 445.3 L193.9 444.8 L196.5 445.3 L199.0 445.3 L201.4 445.3 L205.3 444.7 L209.4 445.3 L213.0 445.4 L214.9 445.3 L218.1 444.6 L221.6 445.3 L224.5 445.3 L227.4 444.8 L230.9 445.3 L234.7 445.1 L235.0 445.4 L235.0 445.4 Z" fill="#27348f" opacity="0.8"/>
<line x1="98.00" y1="467.70" x2="235.80" y2="467.70" stroke="#e06a70" stroke-width="0.5" />
<path d="M105.0 467.7 L105.0 467.7 L106.8 467.6 L109.9 467.6 L112.2 467.0 L114.6 467.6 L117.7 467.0 L120.0 467.7 L123.4 467.6 L125.4 467.7 L127.0 467.7 L127.0 467.7 Z" fill="#e8202a" opacity="0.9"/>
<path d="M127.3 467.7 L127.3 467.7 L128.3 461.0 L129.0 457.0 L129.6 455.0 L130.4 456.5 L131.2 458.5 L131.8 455.0 L132.5 451.5 L133.2 449.5 L133.9 452.0 L134.5 458.0 L135.3 463.0 L136.2 464.0 L137.2 463.4 L138.2 464.8 L139.5 465.0 L141.0 465.6 L143.0 465.8 L145.8 466.6 L145.8 467.7 Z" fill="#e8202a" opacity="1"/>
<path d="M146.0 467.7 L146.0 467.3 L147.7 467.6 L150.1 467.5 L152.1 466.6 L154.5 467.5 L156.7 467.1 L157.9 466.7 L159.1 467.4 L160.7 467.6 L162.0 467.5 L163.1 467.5 L164.4 467.3 L166.0 467.7 L168.5 467.6 L169.7 467.5 L171.2 466.4 L172.3 467.5 L173.6 466.8 L175.4 467.5 L177.5 467.3 L178.8 467.5 L181.0 467.2 L183.3 467.5 L185.5 467.5 L186.0 467.7 L186.0 467.7 Z" fill="#e8202a" opacity="0.95"/>
<path d="M186.5 467.7 L186.5 467.7 L187.5 466.0 L188.8 464.6 L190.0 464.8 L191.3 463.0 L192.2 460.5 L192.7 459.7 L193.3 461.5 L194.2 463.4 L195.0 462.5 L195.8 461.5 L196.6 463.0 L197.6 464.6 L198.8 464.0 L199.6 463.0 L200.4 462.8 L201.2 464.0 L202.4 465.4 L203.6 465.6 L204.6 464.8 L205.3 464.6 L206.2 465.8 L207.0 466.6 L208.0 467.7 L208.0 467.7 Z" fill="#e83a2a" opacity="1"/>
<path d="M208.0 467.7 L208.0 467.2 L208.9 467.7 L210.1 467.6 L211.6 467.6 L212.7 467.7 L212.7 467.7 Z" fill="#e8202a" opacity="0.95"/>
<path d="M212.7 467.7 L212.7 467.7 L213.8 466.0 L215.0 465.6 L216.2 465.0 L217.2 464.2 L218.0 463.8 L218.8 465.0 L219.8 464.6 L220.8 462.4 L221.6 461.2 L222.3 463.0 L223.2 464.6 L224.2 465.6 L225.0 466.4 L225.8 467.7 L225.8 467.7 Z" fill="#e8202a" opacity="1"/>
<path d="M226.0 467.7 L226.0 467.4 L228.0 467.5 L230.7 467.6 L233.2 467.6 L234.8 467.6 L235.0 467.7 L235.0 467.7 Z" fill="#e8202a" opacity="0.9"/>
<line x1="98.00" y1="489.30" x2="235.80" y2="489.30" stroke="#eeb070" stroke-width="0.5" />
<path d="M99.0 489.3 L99.0 489.1 L100.1 487.6 L102.0 487.2 L103.4 489.0 L104.5 489.0 L106.4 487.5 L108.3 489.0 L109.7 488.1 L110.6 489.0 L112.1 487.2 L114.1 487.5 L115.3 488.7 L116.9 488.7 L117.9 487.3 L119.4 489.1 L120.8 489.0 L122.3 488.1 L123.7 488.9 L125.6 489.2 L127.4 488.1 L128.9 489.1 L129.9 488.1 L131.1 489.0 L132.7 489.0 L134.2 489.1 L135.7 489.1 L137.2 489.1 L138.9 489.0 L140.2 489.1 L142.1 489.0 L143.5 489.1 L144.5 489.1 L146.5 489.2 L148.2 489.3 L150.2 489.2 L151.6 489.1 L153.5 488.9 L155.0 488.6 L156.3 487.7 L157.9 488.3 L159.2 489.1 L160.1 489.0 L162.2 489.1 L163.1 487.6 L164.2 489.2 L166.1 488.7 L168.1 489.1 L169.1 489.3 L170.5 489.3 L172.2 487.5 L174.1 489.3 L175.5 489.2 L177.6 488.7 L179.1 488.8 L180.2 489.2 L181.5 489.2 L182.7 488.2 L184.0 489.3 L184.9 489.1 L186.1 489.1 L187.0 489.3 L187.0 489.3 Z" fill="#e88a30" opacity="0.95"/>
<path d="M187.3 489.3 L187.3 489.3 L188.0 487.0 L188.8 484.5 L189.6 482.6 L190.4 481.5 L191.2 482.0 L191.9 480.0 L192.6 475.5 L193.2 472.6 L193.6 472.0 L194.0 473.5 L194.6 478.0 L195.2 481.5 L195.8 483.0 L196.6 484.0 L197.3 486.0 L198.0 487.6 L199.0 489.3 L199.0 489.3 Z" fill="#dba22e" opacity="1"/>
<path d="M199.0 489.3 L199.0 487.7 L200.5 487.7 L202.0 489.1 L203.3 489.1 L205.0 488.5 L205.9 489.1 L207.7 488.8 L208.7 489.1 L210.4 488.8 L211.7 488.4 L213.1 489.2 L215.2 488.3 L217.2 488.7 L218.2 489.2 L219.7 489.2 L220.6 488.8 L221.9 489.2 L223.2 489.2 L224.7 489.1 L226.5 487.6 L227.8 487.4 L229.6 488.1 L231.5 489.0 L233.2 487.8 L234.8 489.2 L235.5 489.3 L235.5 489.3 Z" fill="#e88a30" opacity="0.95"/>
<path d="M221.5 489.3 L221.5 489.3 L222.5 487.5 L223.3 486.4 L224.0 487.6 L225.0 489.3 L225.0 489.3 Z" fill="#e88a30" opacity="1"/>
<text transform="translate(98.30,435.00) scale(0.821,1)" font-size="9.2">16</text>
<text transform="translate(98.30,455.20) scale(0.900,1)" font-size="9.2">4</text>
<text transform="translate(98.30,477.60) scale(0.938,1)" font-size="9.2">20</text>
<rect x="98.00" y="494.70" width="137.80" height="1.50" fill="#a9a9ad" />
<rect x="98.00" y="496.20" width="137.80" height="1.50" fill="#c9cfdc" />
<line x1="129.60" y1="500.90" x2="235.00" y2="500.90" stroke="#7a84c4" stroke-width="0.7" />
<rect x="133.00" y="500.40" width="1.00" height="1.00" fill="#5560b0" />
<rect x="140.00" y="500.40" width="1.00" height="1.00" fill="#5560b0" />
<rect x="147.00" y="500.40" width="1.00" height="1.00" fill="#5560b0" />
<rect x="154.00" y="500.40" width="1.00" height="1.00" fill="#5560b0" />
<rect x="161.00" y="500.40" width="1.00" height="1.00" fill="#5560b0" />
<rect x="168.00" y="500.40" width="1.00" height="1.00" fill="#5560b0" />
<rect x="175.00" y="500.40" width="1.00" height="1.00" fill="#5560b0" />
<rect x="182.00" y="500.40" width="1.00" height="1.00" fill="#5560b0" />
<rect x="189.00" y="500.40" width="1.00" height="1.00" fill="#5560b0" />
<rect x="196.00" y="500.40" width="1.00" height="1.00" fill="#5560b0" />
<rect x="203.00" y="500.40" width="1.00" height="1.00" fill="#5560b0" />
<rect x="210.00" y="500.40" width="1.00" height="1.00" fill="#5560b0" />
<rect x="217.00" y="500.40" width="1.00" height="1.00" fill="#5560b0" />
<rect x="224.00" y="500.40" width="1.00" height="1.00" fill="#5560b0" />
<rect x="231.00" y="500.40" width="1.00" height="1.00" fill="#5560b0" />
<line x1="130.20" y1="506.60" x2="149.00" y2="506.60" stroke="#111" stroke-width="0.9" />
<path d="M151.6 506.6 L147 504.6 L147 508.6 Z" fill="#111"/>
<text transform="translate(129.60,516.20) scale(0.989,1)" font-size="9.2">Promoter</text>
<text transform="translate(201.00,511.80) scale(0.957,1)" font-size="9.2">IL4R</text>
<text transform="translate(96.60,436.40) scale(1.084,1)" font-size="8.3" text-anchor="end" style="fill:#2a3a8c;stroke:#2a3a8c">Eso26 H3K4me3</text>
<text transform="translate(96.60,461.40) scale(1.116,1)" font-size="8.3" text-anchor="end" style="fill:#cf2326;stroke:#cf2326">Eso26 H3K27Ac</text>
<text transform="translate(96.60,481.40) scale(1.112,1)" font-size="8.3" text-anchor="end" style="fill:#e0a23a;stroke:#e0a23a">Eso26 HNF4A</text>
<text transform="translate(275.60,401.00)" font-size="15.4" font-weight="bold" style="fill:#000;stroke:#000">F</text>
<line x1="330.90" y1="503.00" x2="330.90" y2="504.10" stroke="#ec2227" stroke-width="0.9" />
<line x1="328.70" y1="503.00" x2="333.10" y2="503.00" stroke="#ec2227" stroke-width="0.9" />
<rect x="325.30" y="503.60" width="11.20" height="12.60" fill="#ec2227" />
<text transform="translate(330.90,504.00) scale(0.920,1)" font-size="10.0" text-anchor="middle" style="fill:#000;stroke:#000">**</text>
<text transform="translate(333.50,524.00) rotate(-45) scale(0.960,1)" font-size="9.0" text-anchor="end">HNF4A</text>
<line x1="344.90" y1="494.90" x2="344.90" y2="501.70" stroke="#ec2227" stroke-width="0.9" />
<line x1="342.70" y1="494.90" x2="347.10" y2="494.90" stroke="#ec2227" stroke-width="0.9" />
<rect x="339.30" y="501.20" width="11.20" height="15.00" fill="#ec2227" />
<text transform="translate(344.90,495.90) scale(0.920,1)" font-size="10.0" text-anchor="middle" style="fill:#000;stroke:#000">**</text>
<text transform="translate(347.50,524.00) rotate(-45) scale(0.960,1)" font-size="9.0" text-anchor="end">ELK1</text>
<line x1="358.90" y1="494.20" x2="358.90" y2="497.50" stroke="#ec2227" stroke-width="0.9" />
<line x1="356.70" y1="494.20" x2="361.10" y2="494.20" stroke="#ec2227" stroke-width="0.9" />
<rect x="353.30" y="497.00" width="11.20" height="19.20" fill="#ec2227" />
<text transform="translate(358.90,495.20) scale(0.920,1)" font-size="10.0" text-anchor="middle" style="fill:#000;stroke:#000">**</text>
<text transform="translate(361.50,524.00) rotate(-45) scale(0.960,1)" font-size="9.0" text-anchor="end">LYN</text>
<line x1="372.90" y1="494.20" x2="372.90" y2="496.10" stroke="#ec2227" stroke-width="0.9" />
<line x1="370.70" y1="494.20" x2="375.10" y2="494.20" stroke="#ec2227" stroke-width="0.9" />
<rect x="367.30" y="495.60" width="11.20" height="20.60" fill="#ec2227" />
<text transform="translate(372.90,495.20) scale(0.920,1)" font-size="10.0" text-anchor="middle" style="fill:#000;stroke:#000">**</text>
<text transform="translate(375.50,524.00) rotate(-45) scale(0.960,1)" font-size="9.0" text-anchor="end">IL4R</text>
<line x1="386.90" y1="492.50" x2="386.90" y2="496.80" stroke="#ec2227" stroke-width="0.9" />
<line x1="384.70" y1="492.50" x2="389.10" y2="492.50" stroke="#ec2227" stroke-width="0.9" />
<rect x="381.30" y="496.30" width="11.20" height="19.90" fill="#ec2227" />
<text transform="translate(386.90,493.50) scale(0.920,1)" font-size="10.0" text-anchor="middle" style="fill:#000;stroke:#000">**</text>
<text transform="translate(389.50,524.00) rotate(-45) scale(0.960,1)" font-size="9.0" text-anchor="end">IL6ST</text>
<line x1="400.90" y1="482.70" x2="400.90" y2="483.70" stroke="#ec2227" stroke-width="0.9" />
<line x1="398.70" y1="482.70" x2="403.10" y2="482.70" stroke="#ec2227" stroke-width="0.9" />
<rect x="395.30" y="483.20" width="11.20" height="33.00" fill="#ec2227" />
<text transform="translate(400.90,483.70) scale(0.920,1)" font-size="10.0" text-anchor="middle" style="fill:#000;stroke:#000">**</text>
<text transform="translate(403.50,524.00) rotate(-45) scale(0.960,1)" font-size="9.0" text-anchor="end">IL32</text>
<line x1="414.90" y1="487.30" x2="414.90" y2="488.50" stroke="#ec2227" stroke-width="0.9" />
<line x1="412.70" y1="487.30" x2="417.10" y2="487.30" stroke="#ec2227" stroke-width="0.9" />
<rect x="409.30" y="488.00" width="11.20" height="28.20" fill="#ec2227" />
<text transform="translate(414.90,488.30) scale(0.920,1)" font-size="10.0" text-anchor="middle" style="fill:#000;stroke:#000">**</text>
<text transform="translate(417.50,524.00) rotate(-45) scale(0.960,1)" font-size="9.0" text-anchor="end">ANXA2</text>
<line x1="428.90" y1="480.40" x2="428.90" y2="482.60" stroke="#ec2227" stroke-width="0.9" />
<line x1="426.70" y1="480.40" x2="431.10" y2="480.40" stroke="#ec2227" stroke-width="0.9" />
<rect x="423.30" y="482.10" width="11.20" height="34.10" fill="#ec2227" />
<text transform="translate(428.90,481.40) scale(0.920,1)" font-size="10.0" text-anchor="middle" style="fill:#000;stroke:#000">**</text>
<text transform="translate(431.50,524.00) rotate(-45) scale(0.960,1)" font-size="9.0" text-anchor="end">CCL20</text>
<line x1="442.90" y1="482.10" x2="442.90" y2="487.80" stroke="#ec2227" stroke-width="0.9" />
<line x1="440.70" y1="482.10" x2="445.10" y2="482.10" stroke="#ec2227" stroke-width="0.9" />
<rect x="437.30" y="487.30" width="11.20" height="28.90" fill="#ec2227" />
<text transform="translate(442.90,483.10) scale(0.920,1)" font-size="10.0" text-anchor="middle" style="fill:#000;stroke:#000">**</text>
<text transform="translate(445.50,524.00) rotate(-45) scale(0.960,1)" font-size="9.0" text-anchor="end">CCND1</text>
<line x1="456.90" y1="500.10" x2="456.90" y2="502.70" stroke="#ec2227" stroke-width="0.9" />
<line x1="454.70" y1="500.10" x2="459.10" y2="500.10" stroke="#ec2227" stroke-width="0.9" />
<rect x="451.30" y="502.20" width="11.20" height="14.00" fill="#ec2227" />
<text transform="translate(456.90,501.10) scale(0.920,1)" font-size="10.0" text-anchor="middle" style="fill:#000;stroke:#000">**</text>
<text transform="translate(459.50,524.00) rotate(-45) scale(0.960,1)" font-size="9.0" text-anchor="end">IL6R</text>
<line x1="322.10" y1="405.60" x2="322.10" y2="516.75" stroke="#000" stroke-width="1.1" />
<line x1="321.55" y1="516.20" x2="463.60" y2="516.20" stroke="#000" stroke-width="1.1" />
<line x1="322.10" y1="462.10" x2="464.80" y2="462.10" stroke="#000" stroke-width="1.0" stroke-dasharray="2.1 0.9"/>
<line x1="319.90" y1="408.00" x2="322.10" y2="408.00" stroke="#000" stroke-width="0.9" />
<text transform="translate(319.50,411.80)" font-size="9.3" text-anchor="end" style="fill:#000;stroke:#000">2.0</text>
<line x1="319.90" y1="435.05" x2="322.10" y2="435.05" stroke="#000" stroke-width="0.9" />
<text transform="translate(319.50,438.45)" font-size="9.3" text-anchor="end" style="fill:#000;stroke:#000">1.5</text>
<line x1="319.90" y1="462.10" x2="322.10" y2="462.10" stroke="#000" stroke-width="0.9" />
<text transform="translate(319.50,465.50)" font-size="9.3" text-anchor="end" style="fill:#000;stroke:#000">1.0</text>
<line x1="319.90" y1="489.15" x2="322.10" y2="489.15" stroke="#000" stroke-width="0.9" />
<text transform="translate(319.50,492.55)" font-size="9.3" text-anchor="end" style="fill:#000;stroke:#000">0.5</text>
<line x1="319.90" y1="516.20" x2="322.10" y2="516.20" stroke="#000" stroke-width="0.9" />
<text transform="translate(319.50,519.60)" font-size="9.3" text-anchor="end" style="fill:#000;stroke:#000">0.0</text>
<text transform="translate(288.70,459.20) rotate(-90) scale(1.009,1)" font-size="9.2" text-anchor="middle">Relative mRNA level of</text>
<text transform="translate(301.60,459.90) rotate(-90)" font-size="9.2" text-anchor="middle">genes in Eso26 si-HNF4A</text>
<text transform="translate(34.60,546.30)" font-size="15.4" font-weight="bold" style="fill:#000;stroke:#000">G</text>
<line x1="78.20" y1="579.60" x2="78.20" y2="582.40" stroke="#000" stroke-width="0.9" />
<line x1="75.90" y1="579.60" x2="80.50" y2="579.60" stroke="#000" stroke-width="0.9" />
<rect x="72.20" y="581.90" width="12.00" height="45.00" fill="#000" />
<text transform="translate(83.10,633.90) rotate(-44) scale(0.970,1)" font-size="9.3" text-anchor="end">si-NC</text>
<line x1="93.25" y1="617.20" x2="93.25" y2="618.20" stroke="#ec2227" stroke-width="0.9" />
<line x1="90.95" y1="617.20" x2="95.55" y2="617.20" stroke="#ec2227" stroke-width="0.9" />
<rect x="87.70" y="617.70" width="11.10" height="9.20" fill="#ec2227" />
<text transform="translate(93.25,617.70) scale(0.920,1)" font-size="10.0" text-anchor="middle" style="fill:#000;stroke:#000">**</text>
<text transform="translate(98.15,633.90) rotate(-44) scale(0.970,1)" font-size="9.3" text-anchor="end">si-ELK1#1</text>
<line x1="108.10" y1="613.10" x2="108.10" y2="614.00" stroke="#f26a21" stroke-width="0.9" />
<line x1="105.80" y1="613.10" x2="110.40" y2="613.10" stroke="#f26a21" stroke-width="0.9" />
<rect x="102.70" y="613.50" width="10.80" height="13.40" fill="#f26a21" />
<text transform="translate(108.10,613.10) scale(0.920,1)" font-size="10.0" text-anchor="middle" style="fill:#000;stroke:#000">**</text>
<text transform="translate(113.00,633.90) rotate(-44) scale(0.970,1)" font-size="9.3" text-anchor="end">si-ELK1#2</text>
<line x1="123.25" y1="613.10" x2="123.25" y2="614.00" stroke="#ef4238" stroke-width="0.9" />
<line x1="120.95" y1="613.10" x2="125.55" y2="613.10" stroke="#ef4238" stroke-width="0.9" />
<rect x="117.70" y="613.50" width="11.10" height="13.40" fill="#ef4238" />
<text transform="translate(123.25,613.10) scale(0.920,1)" font-size="10.0" text-anchor="middle" style="fill:#000;stroke:#000">**</text>
<text transform="translate(128.15,633.90) rotate(-44) scale(0.970,1)" font-size="9.3" text-anchor="end">si-ELK1#3</text>
<line x1="69.20" y1="557.70" x2="69.20" y2="627.45" stroke="#000" stroke-width="1.1" />
<line x1="68.65" y1="626.90" x2="129.80" y2="626.90" stroke="#000" stroke-width="1.1" />
<line x1="67.00" y1="560.50" x2="69.20" y2="560.50" stroke="#000" stroke-width="0.9" />
<text transform="translate(67.40,564.50) scale(0.930,1)" font-size="9.0" text-anchor="end" style="fill:#000;stroke:#000">1.5</text>
<line x1="67.00" y1="582.60" x2="69.20" y2="582.60" stroke="#000" stroke-width="0.9" />
<text transform="translate(67.40,585.20) scale(0.930,1)" font-size="9.0" text-anchor="end" style="fill:#000;stroke:#000">1.0</text>
<line x1="67.00" y1="604.80" x2="69.20" y2="604.80" stroke="#000" stroke-width="0.9" />
<text transform="translate(67.40,607.80) scale(0.930,1)" font-size="9.0" text-anchor="end" style="fill:#000;stroke:#000">0.5</text>
<line x1="67.00" y1="626.90" x2="69.20" y2="626.90" stroke="#000" stroke-width="0.9" />
<text transform="translate(67.40,629.10) scale(0.930,1)" font-size="9.0" text-anchor="end" style="fill:#000;stroke:#000">0</text>
<text transform="translate(52.00,594.60) rotate(-90) scale(1.004,1)" font-size="8.9" text-anchor="middle">Expression of ELK1</text>
<line x1="307.10" y1="567.40" x2="307.10" y2="580.10" stroke="#000" stroke-width="0.9" />
<line x1="304.80" y1="567.40" x2="309.40" y2="567.40" stroke="#000" stroke-width="0.9" />
<rect x="301.10" y="579.60" width="12.00" height="47.30" fill="#000" />
<text transform="translate(312.00,633.90) rotate(-44) scale(0.970,1)" font-size="9.3" text-anchor="end">si-NC</text>
<line x1="322.15" y1="609.20" x2="322.15" y2="612.40" stroke="#ec2227" stroke-width="0.9" />
<line x1="319.85" y1="609.20" x2="324.45" y2="609.20" stroke="#ec2227" stroke-width="0.9" />
<rect x="316.60" y="611.90" width="11.10" height="15.00" fill="#ec2227" />
<text transform="translate(322.15,611.50) scale(0.920,1)" font-size="10.0" text-anchor="middle" style="fill:#000;stroke:#000">**</text>
<text transform="translate(327.05,633.90) rotate(-44) scale(0.970,1)" font-size="9.3" text-anchor="end">si-IL4R#1</text>
<line x1="337.00" y1="612.00" x2="337.00" y2="612.90" stroke="#f26a21" stroke-width="0.9" />
<line x1="334.70" y1="612.00" x2="339.30" y2="612.00" stroke="#f26a21" stroke-width="0.9" />
<rect x="331.60" y="612.40" width="10.80" height="14.50" fill="#f26a21" />
<text transform="translate(337.00,611.90) scale(0.920,1)" font-size="10.0" text-anchor="middle" style="fill:#000;stroke:#000">**</text>
<text transform="translate(341.90,633.90) rotate(-44) scale(0.970,1)" font-size="9.3" text-anchor="end">si-IL4R#2</text>
<line x1="352.15" y1="613.30" x2="352.15" y2="614.30" stroke="#ef4238" stroke-width="0.9" />
<line x1="349.85" y1="613.30" x2="354.45" y2="613.30" stroke="#ef4238" stroke-width="0.9" />
<rect x="346.60" y="613.80" width="11.10" height="13.10" fill="#ef4238" />
<text transform="translate(352.15,613.50) scale(0.920,1)" font-size="10.0" text-anchor="middle" style="fill:#000;stroke:#000">**</text>
<text transform="translate(357.05,633.90) rotate(-44) scale(0.970,1)" font-size="9.3" text-anchor="end">si-IL4R#3</text>
<line x1="297.10" y1="557.00" x2="297.10" y2="627.45" stroke="#000" stroke-width="1.1" />
<line x1="296.55" y1="626.90" x2="358.70" y2="626.90" stroke="#000" stroke-width="1.1" />
<line x1="294.90" y1="560.50" x2="297.10" y2="560.50" stroke="#000" stroke-width="0.9" />
<text transform="translate(295.30,563.80) scale(0.930,1)" font-size="9.0" text-anchor="end" style="fill:#000;stroke:#000">1.5</text>
<line x1="294.90" y1="582.60" x2="297.10" y2="582.60" stroke="#000" stroke-width="0.9" />
<text transform="translate(295.30,585.20) scale(0.930,1)" font-size="9.0" text-anchor="end" style="fill:#000;stroke:#000">1.0</text>
<line x1="294.90" y1="604.80" x2="297.10" y2="604.80" stroke="#000" stroke-width="0.9" />
<text transform="translate(295.30,607.20) scale(0.930,1)" font-size="9.0" text-anchor="end" style="fill:#000;stroke:#000">0.5</text>
<line x1="294.90" y1="626.90" x2="297.10" y2="626.90" stroke="#000" stroke-width="0.9" />
<text transform="translate(295.30,629.10) scale(0.930,1)" font-size="9.0" text-anchor="end" style="fill:#000;stroke:#000">0</text>
<text transform="translate(279.90,594.00) rotate(-90) scale(1.028,1)" font-size="8.9" text-anchor="middle">Expression of IL4R</text>
<line x1="78.20" y1="681.10" x2="78.20" y2="694.30" stroke="#000" stroke-width="0.9" />
<line x1="75.90" y1="681.10" x2="80.50" y2="681.10" stroke="#000" stroke-width="0.9" />
<rect x="72.20" y="693.80" width="12.00" height="47.30" fill="#000" />
<text transform="translate(83.10,748.10) rotate(-44) scale(0.970,1)" font-size="9.3" text-anchor="end">si-NC</text>
<line x1="93.25" y1="723.10" x2="93.25" y2="726.10" stroke="#ec2227" stroke-width="0.9" />
<line x1="90.95" y1="723.10" x2="95.55" y2="723.10" stroke="#ec2227" stroke-width="0.9" />
<rect x="87.70" y="725.60" width="11.10" height="15.50" fill="#ec2227" />
<text transform="translate(93.25,724.40) scale(0.920,1)" font-size="10.0" text-anchor="middle" style="fill:#000;stroke:#000">**</text>
<text transform="translate(98.15,748.10) rotate(-44) scale(0.970,1)" font-size="9.3" text-anchor="end">si-LYN#1</text>
<line x1="108.10" y1="725.70" x2="108.10" y2="726.60" stroke="#f26a21" stroke-width="0.9" />
<line x1="105.80" y1="725.70" x2="110.40" y2="725.70" stroke="#f26a21" stroke-width="0.9" />
<rect x="102.70" y="726.10" width="10.80" height="15.00" fill="#f26a21" />
<text transform="translate(108.10,726.80) scale(0.920,1)" font-size="10.0" text-anchor="middle" style="fill:#000;stroke:#000">**</text>
<text transform="translate(113.00,748.10) rotate(-44) scale(0.970,1)" font-size="9.3" text-anchor="end">si-LYN#2</text>
<line x1="123.25" y1="726.80" x2="123.25" y2="727.70" stroke="#ef4238" stroke-width="0.9" />
<line x1="120.95" y1="726.80" x2="125.55" y2="726.80" stroke="#ef4238" stroke-width="0.9" />
<rect x="117.70" y="727.20" width="11.10" height="13.90" fill="#ef4238" />
<text transform="translate(123.25,727.70) scale(0.920,1)" font-size="10.0" text-anchor="middle" style="fill:#000;stroke:#000">**</text>
<text transform="translate(128.15,748.10) rotate(-44) scale(0.970,1)" font-size="9.3" text-anchor="end">si-LYN#3</text>
<line x1="69.20" y1="670.70" x2="69.20" y2="741.65" stroke="#000" stroke-width="1.1" />
<line x1="68.65" y1="741.10" x2="129.80" y2="741.10" stroke="#000" stroke-width="1.1" />
<line x1="67.00" y1="683.40" x2="69.20" y2="683.40" stroke="#000" stroke-width="0.9" />
<text transform="translate(67.40,687.10) scale(0.930,1)" font-size="9.0" text-anchor="end" style="fill:#000;stroke:#000">1.5</text>
<line x1="67.00" y1="706.20" x2="69.20" y2="706.20" stroke="#000" stroke-width="0.9" />
<text transform="translate(67.40,708.60) scale(0.930,1)" font-size="9.0" text-anchor="end" style="fill:#000;stroke:#000">1.0</text>
<line x1="67.00" y1="729.00" x2="69.20" y2="729.00" stroke="#000" stroke-width="0.9" />
<text transform="translate(67.40,732.40) scale(0.930,1)" font-size="9.0" text-anchor="end" style="fill:#000;stroke:#000">0.5</text>
<text transform="translate(67.20,754.30) scale(0.930,1)" font-size="9.0" text-anchor="end" style="fill:#000;stroke:#000">0</text>
<text transform="translate(52.00,716.80) rotate(-90) scale(1.012,1)" font-size="8.9" text-anchor="middle">Expression of LYN</text>
<line x1="306.70" y1="683.00" x2="306.70" y2="693.50" stroke="#000" stroke-width="0.9" />
<line x1="304.40" y1="683.00" x2="309.00" y2="683.00" stroke="#000" stroke-width="0.9" />
<rect x="300.70" y="693.00" width="12.00" height="48.40" fill="#000" />
<text transform="translate(311.60,748.40) rotate(-44) scale(0.970,1)" font-size="9.3" text-anchor="end">si-NC</text>
<line x1="321.75" y1="719.20" x2="321.75" y2="728.00" stroke="#ec2227" stroke-width="0.9" />
<line x1="319.45" y1="719.20" x2="324.05" y2="719.20" stroke="#ec2227" stroke-width="0.9" />
<rect x="316.20" y="727.50" width="11.10" height="13.90" fill="#ec2227" />
<text transform="translate(321.75,720.00) scale(0.920,1)" font-size="10.0" text-anchor="middle" style="fill:#000;stroke:#000">**</text>
<text transform="translate(326.65,748.40) rotate(-44) scale(0.970,1)" font-size="9.3" text-anchor="end">si-IL6ST#1</text>
<line x1="336.60" y1="724.90" x2="336.60" y2="731.30" stroke="#f26a21" stroke-width="0.9" />
<line x1="334.30" y1="724.90" x2="338.90" y2="724.90" stroke="#f26a21" stroke-width="0.9" />
<rect x="331.20" y="730.80" width="10.80" height="10.60" fill="#f26a21" />
<text transform="translate(336.60,726.00) scale(0.920,1)" font-size="10.0" text-anchor="middle" style="fill:#000;stroke:#000">**</text>
<text transform="translate(341.50,748.40) rotate(-44) scale(0.970,1)" font-size="9.3" text-anchor="end">si-IL6ST#2</text>
<line x1="351.75" y1="726.20" x2="351.75" y2="732.10" stroke="#ef4238" stroke-width="0.9" />
<line x1="349.45" y1="726.20" x2="354.05" y2="726.20" stroke="#ef4238" stroke-width="0.9" />
<rect x="346.20" y="731.60" width="11.10" height="9.80" fill="#ef4238" />
<text transform="translate(351.75,727.30) scale(0.920,1)" font-size="10.0" text-anchor="middle" style="fill:#000;stroke:#000">**</text>
<text transform="translate(356.65,748.40) rotate(-44) scale(0.970,1)" font-size="9.3" text-anchor="end">si-IL6ST#3</text>
<line x1="296.80" y1="671.50" x2="296.80" y2="741.95" stroke="#000" stroke-width="1.1" />
<line x1="296.25" y1="741.40" x2="358.30" y2="741.40" stroke="#000" stroke-width="1.1" />
<line x1="294.60" y1="672.80" x2="296.80" y2="672.80" stroke="#000" stroke-width="0.9" />
<text transform="translate(295.00,678.10) scale(0.930,1)" font-size="9.0" text-anchor="end" style="fill:#000;stroke:#000">1.5</text>
<line x1="294.60" y1="695.80" x2="296.80" y2="695.80" stroke="#000" stroke-width="0.9" />
<text transform="translate(295.00,699.10) scale(0.930,1)" font-size="9.0" text-anchor="end" style="fill:#000;stroke:#000">1.0</text>
<line x1="294.60" y1="718.60" x2="296.80" y2="718.60" stroke="#000" stroke-width="0.9" />
<text transform="translate(295.00,722.00) scale(0.930,1)" font-size="9.0" text-anchor="end" style="fill:#000;stroke:#000">0.5</text>
<line x1="294.60" y1="741.40" x2="296.80" y2="741.40" stroke="#000" stroke-width="0.9" />
<text transform="translate(295.00,744.30) scale(0.930,1)" font-size="9.0" text-anchor="end" style="fill:#000;stroke:#000">0</text>
<text transform="translate(279.60,712.00) rotate(-90) scale(1.036,1)" font-size="8.9" text-anchor="middle">Expression of IL6ST</text>
<line x1="241.90" y1="573.10" x2="241.90" y2="586.50" stroke="#000" stroke-width="0.8" />
<line x1="240.30" y1="573.10" x2="243.50" y2="573.10" stroke="#000" stroke-width="0.8" />
<line x1="240.30" y1="586.50" x2="243.50" y2="586.50" stroke="#000" stroke-width="0.8" />
<line x1="241.90" y1="596.20" x2="241.90" y2="601.20" stroke="#ec2227" stroke-width="0.8" />
<line x1="240.30" y1="596.20" x2="243.50" y2="596.20" stroke="#ec2227" stroke-width="0.8" />
<line x1="240.30" y1="601.20" x2="243.50" y2="601.20" stroke="#ec2227" stroke-width="0.8" />
<polyline points="179.3,625.0 200.3,621.2 221.1,615.8 241.9,605.4" fill="none" stroke="#ef4238" stroke-width="1.5" stroke-linejoin="round"/>
<path d="M177.3 623.2 L181.3 623.2 L179.3 627.1 Z" fill="#ef4238"/>
<path d="M198.3 619.4 L202.3 619.4 L200.3 623.3 Z" fill="#ef4238"/>
<path d="M219.1 614.0 L223.1 614.0 L221.1 617.9 Z" fill="#ef4238"/>
<path d="M239.9 603.6 L243.9 603.6 L241.9 607.5 Z" fill="#ef4238"/>
<polyline points="179.3,625.0 200.3,620.8 221.1,615.2 241.9,603.5" fill="none" stroke="#f26a21" stroke-width="1.5" stroke-linejoin="round"/>
<path d="M177.3 626.8 L181.3 626.8 L179.3 622.9 Z" fill="#f26a21"/>
<path d="M198.3 622.6 L202.3 622.6 L200.3 618.7 Z" fill="#f26a21"/>
<path d="M219.1 617.0 L223.1 617.0 L221.1 613.1 Z" fill="#f26a21"/>
<path d="M239.9 605.3 L243.9 605.3 L241.9 601.4 Z" fill="#f26a21"/>
<polyline points="179.3,625.0 200.3,620.4 221.1,614.6 241.9,601.2" fill="none" stroke="#ec2227" stroke-width="1.5" stroke-linejoin="round"/>
<rect x="177.50" y="623.20" width="3.60" height="3.60" fill="#ec2227" />
<rect x="198.50" y="618.60" width="3.60" height="3.60" fill="#ec2227" />
<rect x="219.30" y="612.80" width="3.60" height="3.60" fill="#ec2227" />
<rect x="240.10" y="599.40" width="3.60" height="3.60" fill="#ec2227" />
<polyline points="179.3,625.0 200.3,616.5 221.1,606.1 241.9,580.0" fill="none" stroke="#000" stroke-width="1.5" stroke-linejoin="round"/>
<ellipse cx="179.30" cy="625.00" rx="1.80" ry="1.80" fill="#000" />
<ellipse cx="200.30" cy="616.50" rx="1.80" ry="1.80" fill="#000" />
<ellipse cx="221.10" cy="606.10" rx="1.80" ry="1.80" fill="#000" />
<ellipse cx="241.90" cy="580.00" rx="1.80" ry="1.80" fill="#000" />
<line x1="170.30" y1="559.70" x2="170.30" y2="634.75" stroke="#000" stroke-width="1.1" />
<line x1="169.75" y1="634.20" x2="244.80" y2="634.20" stroke="#000" stroke-width="1.1" />
<line x1="167.90" y1="560.40" x2="170.30" y2="560.40" stroke="#000" stroke-width="0.9" />
<text transform="translate(167.70,565.00)" font-size="9.2" text-anchor="end" style="fill:#000;stroke:#000">8</text>
<line x1="168.70" y1="578.85" x2="170.30" y2="578.85" stroke="#000" stroke-width="0.9" />
<line x1="167.90" y1="597.30" x2="170.30" y2="597.30" stroke="#000" stroke-width="0.9" />
<text transform="translate(167.70,600.70)" font-size="9.2" text-anchor="end" style="fill:#000;stroke:#000">4</text>
<line x1="168.70" y1="615.75" x2="170.30" y2="615.75" stroke="#000" stroke-width="0.9" />
<line x1="167.90" y1="634.20" x2="170.30" y2="634.20" stroke="#000" stroke-width="0.9" />
<text transform="translate(167.70,637.00)" font-size="9.2" text-anchor="end" style="fill:#000;stroke:#000">0</text>
<line x1="179.30" y1="634.20" x2="179.30" y2="636.60" stroke="#000" stroke-width="0.9" />
<text transform="translate(179.30,644.50)" font-size="9.2" text-anchor="middle" style="fill:#000;stroke:#000">1</text>
<line x1="200.30" y1="634.20" x2="200.30" y2="636.60" stroke="#000" stroke-width="0.9" />
<text transform="translate(200.30,644.50)" font-size="9.2" text-anchor="middle" style="fill:#000;stroke:#000">3</text>
<line x1="221.10" y1="634.20" x2="221.10" y2="636.60" stroke="#000" stroke-width="0.9" />
<text transform="translate(221.10,644.50)" font-size="9.2" text-anchor="middle" style="fill:#000;stroke:#000">5</text>
<line x1="241.90" y1="634.20" x2="241.90" y2="636.60" stroke="#000" stroke-width="0.9" />
<text transform="translate(241.90,644.50)" font-size="9.2" text-anchor="middle" style="fill:#000;stroke:#000">7</text>
<text transform="translate(247.20,644.50) scale(0.906,1)" font-size="9.2" style="fill:#000;stroke:#000">days</text>
<line x1="174.20" y1="560.40" x2="180.60" y2="560.40" stroke="#000" stroke-width="1.4" />
<ellipse cx="177.40" cy="560.40" rx="1.80" ry="1.80" fill="#000" />
<text transform="translate(182.30,563.60) scale(0.990,1)" font-size="9.2">si-NC</text>
<line x1="174.20" y1="570.80" x2="180.60" y2="570.80" stroke="#ec2227" stroke-width="1.4" />
<rect x="175.60" y="569.00" width="3.60" height="3.60" fill="#ec2227" />
<text transform="translate(182.30,574.00) scale(0.990,1)" font-size="9.2">si-ELK1#1</text>
<line x1="174.20" y1="580.70" x2="180.60" y2="580.70" stroke="#f26a21" stroke-width="1.4" />
<path d="M175.4 582.5 L179.4 582.5 L177.4 578.6 Z" fill="#f26a21"/>
<text transform="translate(182.30,583.90) scale(0.990,1)" font-size="9.2">si-ELK1#2</text>
<line x1="174.20" y1="590.40" x2="180.60" y2="590.40" stroke="#ef4238" stroke-width="1.4" />
<path d="M175.4 588.6 L179.4 588.6 L177.4 592.5 Z" fill="#ef4238"/>
<text transform="translate(182.30,593.60) scale(0.990,1)" font-size="9.2">si-ELK1#3</text>
<text transform="translate(249.30,603.89) scale(0.920,1)" font-size="9.6" text-anchor="middle" style="fill:#000;stroke:#000">**</text>
<text transform="translate(249.30,608.49) scale(0.920,1)" font-size="9.6" text-anchor="middle" style="fill:#000;stroke:#000">**</text>
<text transform="translate(249.30,613.19) scale(0.920,1)" font-size="9.6" text-anchor="middle" style="fill:#000;stroke:#000">**</text>
<text transform="translate(158.60,595.60) rotate(-90) scale(1.006,1)" font-size="9.1" text-anchor="middle">Relative cell viability</text>
<line x1="474.20" y1="573.10" x2="474.20" y2="586.50" stroke="#000" stroke-width="0.8" />
<line x1="472.60" y1="573.10" x2="475.80" y2="573.10" stroke="#000" stroke-width="0.8" />
<line x1="472.60" y1="586.50" x2="475.80" y2="586.50" stroke="#000" stroke-width="0.8" />
<line x1="474.20" y1="601.50" x2="474.20" y2="606.50" stroke="#f26a21" stroke-width="0.8" />
<line x1="472.60" y1="601.50" x2="475.80" y2="601.50" stroke="#f26a21" stroke-width="0.8" />
<line x1="472.60" y1="606.50" x2="475.80" y2="606.50" stroke="#f26a21" stroke-width="0.8" />
<line x1="474.20" y1="605.00" x2="474.20" y2="610.80" stroke="#ef4238" stroke-width="0.8" />
<line x1="472.60" y1="605.00" x2="475.80" y2="605.00" stroke="#ef4238" stroke-width="0.8" />
<line x1="472.60" y1="610.80" x2="475.80" y2="610.80" stroke="#ef4238" stroke-width="0.8" />
<line x1="432.60" y1="618.50" x2="432.60" y2="622.50" stroke="#ec2227" stroke-width="0.8" />
<line x1="431.00" y1="618.50" x2="434.20" y2="618.50" stroke="#ec2227" stroke-width="0.8" />
<line x1="431.00" y1="622.50" x2="434.20" y2="622.50" stroke="#ec2227" stroke-width="0.8" />
<polyline points="411.6,625.0 432.6,621.0 453.4,616.9 474.2,607.7" fill="none" stroke="#ef4238" stroke-width="1.5" stroke-linejoin="round"/>
<path d="M409.6 623.2 L413.6 623.2 L411.6 627.1 Z" fill="#ef4238"/>
<path d="M430.6 619.2 L434.6 619.2 L432.6 623.1 Z" fill="#ef4238"/>
<path d="M451.4 615.1 L455.4 615.1 L453.4 619.0 Z" fill="#ef4238"/>
<path d="M472.2 605.9 L476.2 605.9 L474.2 609.8 Z" fill="#ef4238"/>
<polyline points="411.6,625.0 432.6,620.6 453.4,614.6 474.2,604.2" fill="none" stroke="#f26a21" stroke-width="1.5" stroke-linejoin="round"/>
<path d="M409.6 626.8 L413.6 626.8 L411.6 622.9 Z" fill="#f26a21"/>
<path d="M430.6 622.4 L434.6 622.4 L432.6 618.5 Z" fill="#f26a21"/>
<path d="M451.4 616.4 L455.4 616.4 L453.4 612.5 Z" fill="#f26a21"/>
<path d="M472.2 606.0 L476.2 606.0 L474.2 602.1 Z" fill="#f26a21"/>
<polyline points="411.6,625.0 432.6,620.2 453.4,613.5 474.2,598.9" fill="none" stroke="#ec2227" stroke-width="1.5" stroke-linejoin="round"/>
<rect x="409.80" y="623.20" width="3.60" height="3.60" fill="#ec2227" />
<rect x="430.80" y="618.40" width="3.60" height="3.60" fill="#ec2227" />
<rect x="451.60" y="611.70" width="3.60" height="3.60" fill="#ec2227" />
<rect x="472.40" y="597.10" width="3.60" height="3.60" fill="#ec2227" />
<polyline points="411.6,625.0 432.6,616.5 453.4,606.1 474.2,580.0" fill="none" stroke="#000" stroke-width="1.5" stroke-linejoin="round"/>
<ellipse cx="411.60" cy="625.00" rx="1.80" ry="1.80" fill="#000" />
<ellipse cx="432.60" cy="616.50" rx="1.80" ry="1.80" fill="#000" />
<ellipse cx="453.40" cy="606.10" rx="1.80" ry="1.80" fill="#000" />
<ellipse cx="474.20" cy="580.00" rx="1.80" ry="1.80" fill="#000" />
<line x1="402.60" y1="559.70" x2="402.60" y2="634.75" stroke="#000" stroke-width="1.1" />
<line x1="402.05" y1="634.20" x2="477.10" y2="634.20" stroke="#000" stroke-width="1.1" />
<line x1="400.20" y1="560.40" x2="402.60" y2="560.40" stroke="#000" stroke-width="0.9" />
<text transform="translate(400.00,565.00)" font-size="9.2" text-anchor="end" style="fill:#000;stroke:#000">8</text>
<line x1="401.00" y1="578.85" x2="402.60" y2="578.85" stroke="#000" stroke-width="0.9" />
<line x1="400.20" y1="597.30" x2="402.60" y2="597.30" stroke="#000" stroke-width="0.9" />
<text transform="translate(400.00,600.70)" font-size="9.2" text-anchor="end" style="fill:#000;stroke:#000">4</text>
<line x1="401.00" y1="615.75" x2="402.60" y2="615.75" stroke="#000" stroke-width="0.9" />
<line x1="400.20" y1="634.20" x2="402.60" y2="634.20" stroke="#000" stroke-width="0.9" />
<text transform="translate(400.00,637.00)" font-size="9.2" text-anchor="end" style="fill:#000;stroke:#000">0</text>
<line x1="411.60" y1="634.20" x2="411.60" y2="636.60" stroke="#000" stroke-width="0.9" />
<text transform="translate(411.60,644.50)" font-size="9.2" text-anchor="middle" style="fill:#000;stroke:#000">1</text>
<line x1="432.60" y1="634.20" x2="432.60" y2="636.60" stroke="#000" stroke-width="0.9" />
<text transform="translate(432.60,644.50)" font-size="9.2" text-anchor="middle" style="fill:#000;stroke:#000">3</text>
<line x1="453.40" y1="634.20" x2="453.40" y2="636.60" stroke="#000" stroke-width="0.9" />
<text transform="translate(453.40,644.50)" font-size="9.2" text-anchor="middle" style="fill:#000;stroke:#000">5</text>
<line x1="474.20" y1="634.20" x2="474.20" y2="636.60" stroke="#000" stroke-width="0.9" />
<text transform="translate(474.20,644.50)" font-size="9.2" text-anchor="middle" style="fill:#000;stroke:#000">7</text>
<text transform="translate(479.50,644.50) scale(0.906,1)" font-size="9.2" style="fill:#000;stroke:#000">days</text>
<line x1="406.50" y1="560.40" x2="412.90" y2="560.40" stroke="#000" stroke-width="1.4" />
<ellipse cx="409.70" cy="560.40" rx="1.80" ry="1.80" fill="#000" />
<text transform="translate(414.60,563.60) scale(0.990,1)" font-size="9.2">si-NC</text>
<line x1="406.50" y1="570.80" x2="412.90" y2="570.80" stroke="#ec2227" stroke-width="1.4" />
<rect x="407.90" y="569.00" width="3.60" height="3.60" fill="#ec2227" />
<text transform="translate(414.60,574.00) scale(0.990,1)" font-size="9.2">si-IL4R#1</text>
<line x1="406.50" y1="580.70" x2="412.90" y2="580.70" stroke="#f26a21" stroke-width="1.4" />
<path d="M407.7 582.5 L411.7 582.5 L409.7 578.6 Z" fill="#f26a21"/>
<text transform="translate(414.60,583.90) scale(0.990,1)" font-size="9.2">si-IL4R#2</text>
<line x1="406.50" y1="590.40" x2="412.90" y2="590.40" stroke="#ef4238" stroke-width="1.4" />
<path d="M407.7 588.6 L411.7 588.6 L409.7 592.5 Z" fill="#ef4238"/>
<text transform="translate(414.60,593.60) scale(0.990,1)" font-size="9.2">si-IL4R#3</text>
<text transform="translate(481.80,603.49) scale(0.920,1)" font-size="9.6" text-anchor="middle" style="fill:#000;stroke:#000">**</text>
<text transform="translate(481.80,609.19) scale(0.920,1)" font-size="9.6" text-anchor="middle" style="fill:#000;stroke:#000">**</text>
<text transform="translate(481.80,613.79) scale(0.920,1)" font-size="9.6" text-anchor="middle" style="fill:#000;stroke:#000">**</text>
<text transform="translate(390.30,595.60) rotate(-90) scale(1.006,1)" font-size="9.1" text-anchor="middle">Relative cell viability</text>
<line x1="241.90" y1="691.00" x2="241.90" y2="704.50" stroke="#000" stroke-width="0.8" />
<line x1="240.30" y1="691.00" x2="243.50" y2="691.00" stroke="#000" stroke-width="0.8" />
<line x1="240.30" y1="704.50" x2="243.50" y2="704.50" stroke="#000" stroke-width="0.8" />
<line x1="241.90" y1="720.00" x2="241.90" y2="725.70" stroke="#f26a21" stroke-width="0.8" />
<line x1="240.30" y1="720.00" x2="243.50" y2="720.00" stroke="#f26a21" stroke-width="0.8" />
<line x1="240.30" y1="725.70" x2="243.50" y2="725.70" stroke="#f26a21" stroke-width="0.8" />
<polyline points="179.3,743.0 200.3,738.0 221.1,734.0 241.9,725.0" fill="none" stroke="#ef4238" stroke-width="1.5" stroke-linejoin="round"/>
<path d="M177.3 741.2 L181.3 741.2 L179.3 745.1 Z" fill="#ef4238"/>
<path d="M198.3 736.2 L202.3 736.2 L200.3 740.1 Z" fill="#ef4238"/>
<path d="M219.1 732.2 L223.1 732.2 L221.1 736.1 Z" fill="#ef4238"/>
<path d="M239.9 723.2 L243.9 723.2 L241.9 727.1 Z" fill="#ef4238"/>
<polyline points="179.3,743.0 200.3,739.0 221.1,735.0 241.9,725.7" fill="none" stroke="#f26a21" stroke-width="1.5" stroke-linejoin="round"/>
<path d="M177.3 744.8 L181.3 744.8 L179.3 740.9 Z" fill="#f26a21"/>
<path d="M198.3 740.8 L202.3 740.8 L200.3 736.9 Z" fill="#f26a21"/>
<path d="M219.1 736.8 L223.1 736.8 L221.1 732.9 Z" fill="#f26a21"/>
<path d="M239.9 727.5 L243.9 727.5 L241.9 723.6 Z" fill="#f26a21"/>
<polyline points="179.3,743.0 200.3,737.2 221.1,732.2 241.9,724.1" fill="none" stroke="#ec2227" stroke-width="1.5" stroke-linejoin="round"/>
<rect x="177.50" y="741.20" width="3.60" height="3.60" fill="#ec2227" />
<rect x="198.50" y="735.40" width="3.60" height="3.60" fill="#ec2227" />
<rect x="219.30" y="730.40" width="3.60" height="3.60" fill="#ec2227" />
<rect x="240.10" y="722.30" width="3.60" height="3.60" fill="#ec2227" />
<polyline points="179.3,742.9 200.3,734.4 221.1,724.0 241.9,697.9" fill="none" stroke="#000" stroke-width="1.5" stroke-linejoin="round"/>
<ellipse cx="179.30" cy="742.90" rx="1.80" ry="1.80" fill="#000" />
<ellipse cx="200.30" cy="734.40" rx="1.80" ry="1.80" fill="#000" />
<ellipse cx="221.10" cy="724.00" rx="1.80" ry="1.80" fill="#000" />
<ellipse cx="241.90" cy="697.90" rx="1.80" ry="1.80" fill="#000" />
<line x1="170.30" y1="677.00" x2="170.30" y2="752.05" stroke="#000" stroke-width="1.1" />
<line x1="169.75" y1="751.50" x2="244.80" y2="751.50" stroke="#000" stroke-width="1.1" />
<line x1="167.90" y1="677.70" x2="170.30" y2="677.70" stroke="#000" stroke-width="0.9" />
<text transform="translate(167.70,682.30)" font-size="9.2" text-anchor="end" style="fill:#000;stroke:#000">8</text>
<line x1="168.70" y1="696.15" x2="170.30" y2="696.15" stroke="#000" stroke-width="0.9" />
<line x1="167.90" y1="714.60" x2="170.30" y2="714.60" stroke="#000" stroke-width="0.9" />
<text transform="translate(167.70,718.00)" font-size="9.2" text-anchor="end" style="fill:#000;stroke:#000">4</text>
<line x1="168.70" y1="733.05" x2="170.30" y2="733.05" stroke="#000" stroke-width="0.9" />
<line x1="167.90" y1="751.50" x2="170.30" y2="751.50" stroke="#000" stroke-width="0.9" />
<text transform="translate(167.70,754.30)" font-size="9.2" text-anchor="end" style="fill:#000;stroke:#000">0</text>
<line x1="179.30" y1="751.50" x2="179.30" y2="753.90" stroke="#000" stroke-width="0.9" />
<text transform="translate(179.30,761.80)" font-size="9.2" text-anchor="middle" style="fill:#000;stroke:#000">1</text>
<line x1="200.30" y1="751.50" x2="200.30" y2="753.90" stroke="#000" stroke-width="0.9" />
<text transform="translate(200.30,761.80)" font-size="9.2" text-anchor="middle" style="fill:#000;stroke:#000">3</text>
<line x1="221.10" y1="751.50" x2="221.10" y2="753.90" stroke="#000" stroke-width="0.9" />
<text transform="translate(221.10,761.80)" font-size="9.2" text-anchor="middle" style="fill:#000;stroke:#000">5</text>
<line x1="241.90" y1="751.50" x2="241.90" y2="753.90" stroke="#000" stroke-width="0.9" />
<text transform="translate(241.90,761.80)" font-size="9.2" text-anchor="middle" style="fill:#000;stroke:#000">7</text>
<text transform="translate(247.20,761.80) scale(0.906,1)" font-size="9.2" style="fill:#000;stroke:#000">days</text>
<line x1="174.20" y1="677.70" x2="180.60" y2="677.70" stroke="#000" stroke-width="1.4" />
<ellipse cx="177.40" cy="677.70" rx="1.80" ry="1.80" fill="#000" />
<text transform="translate(182.30,680.90) scale(0.990,1)" font-size="9.2">si-NC</text>
<line x1="174.20" y1="688.10" x2="180.60" y2="688.10" stroke="#ec2227" stroke-width="1.4" />
<rect x="175.60" y="686.30" width="3.60" height="3.60" fill="#ec2227" />
<text transform="translate(182.30,691.30) scale(0.990,1)" font-size="9.2">si-LYN#1</text>
<line x1="174.20" y1="698.00" x2="180.60" y2="698.00" stroke="#f26a21" stroke-width="1.4" />
<path d="M175.4 699.8 L179.4 699.8 L177.4 695.9 Z" fill="#f26a21"/>
<text transform="translate(182.30,701.20) scale(0.990,1)" font-size="9.2">si-LYN#2</text>
<line x1="174.20" y1="707.70" x2="180.60" y2="707.70" stroke="#ef4238" stroke-width="1.4" />
<path d="M175.4 705.9 L179.4 705.9 L177.4 709.8 Z" fill="#ef4238"/>
<text transform="translate(182.30,710.90) scale(0.990,1)" font-size="9.2">si-LYN#3</text>
<text transform="translate(249.30,724.99) scale(0.920,1)" font-size="9.6" text-anchor="middle" style="fill:#000;stroke:#000">**</text>
<text transform="translate(249.30,729.49) scale(0.920,1)" font-size="9.6" text-anchor="middle" style="fill:#000;stroke:#000">**</text>
<text transform="translate(249.30,734.89) scale(0.920,1)" font-size="9.6" text-anchor="middle" style="fill:#000;stroke:#000">**</text>
<text transform="translate(158.60,712.90) rotate(-90) scale(1.006,1)" font-size="9.1" text-anchor="middle">Relative cell viability</text>
<line x1="474.20" y1="691.00" x2="474.20" y2="704.50" stroke="#000" stroke-width="0.8" />
<line x1="472.60" y1="691.00" x2="475.80" y2="691.00" stroke="#000" stroke-width="0.8" />
<line x1="472.60" y1="704.50" x2="475.80" y2="704.50" stroke="#000" stroke-width="0.8" />
<line x1="453.40" y1="724.00" x2="453.40" y2="737.50" stroke="#f26a21" stroke-width="0.8" />
<line x1="451.80" y1="724.00" x2="455.00" y2="724.00" stroke="#f26a21" stroke-width="0.8" />
<line x1="451.80" y1="737.50" x2="455.00" y2="737.50" stroke="#f26a21" stroke-width="0.8" />
<line x1="474.20" y1="711.50" x2="474.20" y2="720.50" stroke="#ec2227" stroke-width="0.8" />
<line x1="472.60" y1="711.50" x2="475.80" y2="711.50" stroke="#ec2227" stroke-width="0.8" />
<line x1="472.60" y1="720.50" x2="475.80" y2="720.50" stroke="#ec2227" stroke-width="0.8" />
<line x1="432.60" y1="733.50" x2="432.60" y2="739.00" stroke="#f26a21" stroke-width="0.8" />
<line x1="431.00" y1="733.50" x2="434.20" y2="733.50" stroke="#f26a21" stroke-width="0.8" />
<line x1="431.00" y1="739.00" x2="434.20" y2="739.00" stroke="#f26a21" stroke-width="0.8" />
<line x1="474.20" y1="712.00" x2="474.20" y2="721.00" stroke="#f26a21" stroke-width="0.8" />
<line x1="472.60" y1="712.00" x2="475.80" y2="712.00" stroke="#f26a21" stroke-width="0.8" />
<line x1="472.60" y1="721.00" x2="475.80" y2="721.00" stroke="#f26a21" stroke-width="0.8" />
<polyline points="411.6,743.0 432.6,736.2 453.4,729.8 474.2,716.3" fill="none" stroke="#ef4238" stroke-width="1.5" stroke-linejoin="round"/>
<path d="M409.6 741.2 L413.6 741.2 L411.6 745.1 Z" fill="#ef4238"/>
<path d="M430.6 734.4 L434.6 734.4 L432.6 738.3 Z" fill="#ef4238"/>
<path d="M451.4 728.0 L455.4 728.0 L453.4 731.9 Z" fill="#ef4238"/>
<path d="M472.2 714.5 L476.2 714.5 L474.2 718.4 Z" fill="#ef4238"/>
<polyline points="411.6,743.0 432.6,736.4 453.4,730.0 474.2,716.6" fill="none" stroke="#f26a21" stroke-width="1.5" stroke-linejoin="round"/>
<path d="M409.6 744.8 L413.6 744.8 L411.6 740.9 Z" fill="#f26a21"/>
<path d="M430.6 738.2 L434.6 738.2 L432.6 734.3 Z" fill="#f26a21"/>
<path d="M451.4 731.8 L455.4 731.8 L453.4 727.9 Z" fill="#f26a21"/>
<path d="M472.2 718.4 L476.2 718.4 L474.2 714.5 Z" fill="#f26a21"/>
<polyline points="411.6,743.0 432.6,736.0 453.4,729.6 474.2,716.0" fill="none" stroke="#ec2227" stroke-width="1.5" stroke-linejoin="round"/>
<rect x="409.80" y="741.20" width="3.60" height="3.60" fill="#ec2227" />
<rect x="430.80" y="734.20" width="3.60" height="3.60" fill="#ec2227" />
<rect x="451.60" y="727.80" width="3.60" height="3.60" fill="#ec2227" />
<rect x="472.40" y="714.20" width="3.60" height="3.60" fill="#ec2227" />
<polyline points="411.6,742.9 432.6,734.4 453.4,724.0 474.2,697.9" fill="none" stroke="#000" stroke-width="1.5" stroke-linejoin="round"/>
<ellipse cx="411.60" cy="742.90" rx="1.80" ry="1.80" fill="#000" />
<ellipse cx="432.60" cy="734.40" rx="1.80" ry="1.80" fill="#000" />
<ellipse cx="453.40" cy="724.00" rx="1.80" ry="1.80" fill="#000" />
<ellipse cx="474.20" cy="697.90" rx="1.80" ry="1.80" fill="#000" />
<line x1="402.60" y1="677.00" x2="402.60" y2="752.05" stroke="#000" stroke-width="1.1" />
<line x1="402.05" y1="751.50" x2="477.10" y2="751.50" stroke="#000" stroke-width="1.1" />
<line x1="400.20" y1="677.70" x2="402.60" y2="677.70" stroke="#000" stroke-width="0.9" />
<text transform="translate(400.00,682.30)" font-size="9.2" text-anchor="end" style="fill:#000;stroke:#000">8</text>
<line x1="401.00" y1="696.15" x2="402.60" y2="696.15" stroke="#000" stroke-width="0.9" />
<line x1="400.20" y1="714.60" x2="402.60" y2="714.60" stroke="#000" stroke-width="0.9" />
<text transform="translate(400.00,718.00)" font-size="9.2" text-anchor="end" style="fill:#000;stroke:#000">4</text>
<line x1="401.00" y1="733.05" x2="402.60" y2="733.05" stroke="#000" stroke-width="0.9" />
<line x1="400.20" y1="751.50" x2="402.60" y2="751.50" stroke="#000" stroke-width="0.9" />
<text transform="translate(400.00,754.30)" font-size="9.2" text-anchor="end" style="fill:#000;stroke:#000">0</text>
<line x1="411.60" y1="751.50" x2="411.60" y2="753.90" stroke="#000" stroke-width="0.9" />
<text transform="translate(411.60,761.80)" font-size="9.2" text-anchor="middle" style="fill:#000;stroke:#000">1</text>
<line x1="432.60" y1="751.50" x2="432.60" y2="753.90" stroke="#000" stroke-width="0.9" />
<text transform="translate(432.60,761.80)" font-size="9.2" text-anchor="middle" style="fill:#000;stroke:#000">3</text>
<line x1="453.40" y1="751.50" x2="453.40" y2="753.90" stroke="#000" stroke-width="0.9" />
<text transform="translate(453.40,761.80)" font-size="9.2" text-anchor="middle" style="fill:#000;stroke:#000">5</text>
<line x1="474.20" y1="751.50" x2="474.20" y2="753.90" stroke="#000" stroke-width="0.9" />
<text transform="translate(474.20,761.80)" font-size="9.2" text-anchor="middle" style="fill:#000;stroke:#000">7</text>
<text transform="translate(479.50,761.80) scale(0.906,1)" font-size="9.2" style="fill:#000;stroke:#000">days</text>
<line x1="406.50" y1="677.70" x2="412.90" y2="677.70" stroke="#000" stroke-width="1.4" />
<ellipse cx="409.70" cy="677.70" rx="1.80" ry="1.80" fill="#000" />
<text transform="translate(414.60,680.90) scale(0.990,1)" font-size="9.2">si-NC</text>
<line x1="406.50" y1="688.10" x2="412.90" y2="688.10" stroke="#ec2227" stroke-width="1.4" />
<rect x="407.90" y="686.30" width="3.60" height="3.60" fill="#ec2227" />
<text transform="translate(414.60,691.30) scale(0.990,1)" font-size="9.2">si-IL6ST#1</text>
<line x1="406.50" y1="698.00" x2="412.90" y2="698.00" stroke="#f26a21" stroke-width="1.4" />
<path d="M407.7 699.8 L411.7 699.8 L409.7 695.9 Z" fill="#f26a21"/>
<text transform="translate(414.60,701.20) scale(0.990,1)" font-size="9.2">si-IL6ST#2</text>
<line x1="406.50" y1="707.70" x2="412.90" y2="707.70" stroke="#ef4238" stroke-width="1.4" />
<path d="M407.7 705.9 L411.7 705.9 L409.7 709.8 Z" fill="#ef4238"/>
<text transform="translate(414.60,710.90) scale(0.990,1)" font-size="9.2">si-IL6ST#3</text>
<text transform="translate(481.80,715.59) scale(0.920,1)" font-size="9.6" text-anchor="middle" style="fill:#000;stroke:#000">**</text>
<text transform="translate(481.80,720.39) scale(0.920,1)" font-size="9.6" text-anchor="middle" style="fill:#000;stroke:#000">**</text>
<text transform="translate(481.80,725.19) scale(0.920,1)" font-size="9.6" text-anchor="middle" style="fill:#000;stroke:#000">**</text>
<text transform="translate(390.30,712.90) rotate(-90) scale(1.006,1)" font-size="9.1" text-anchor="middle">Relative cell viability</text>
</svg>
</body></html>
